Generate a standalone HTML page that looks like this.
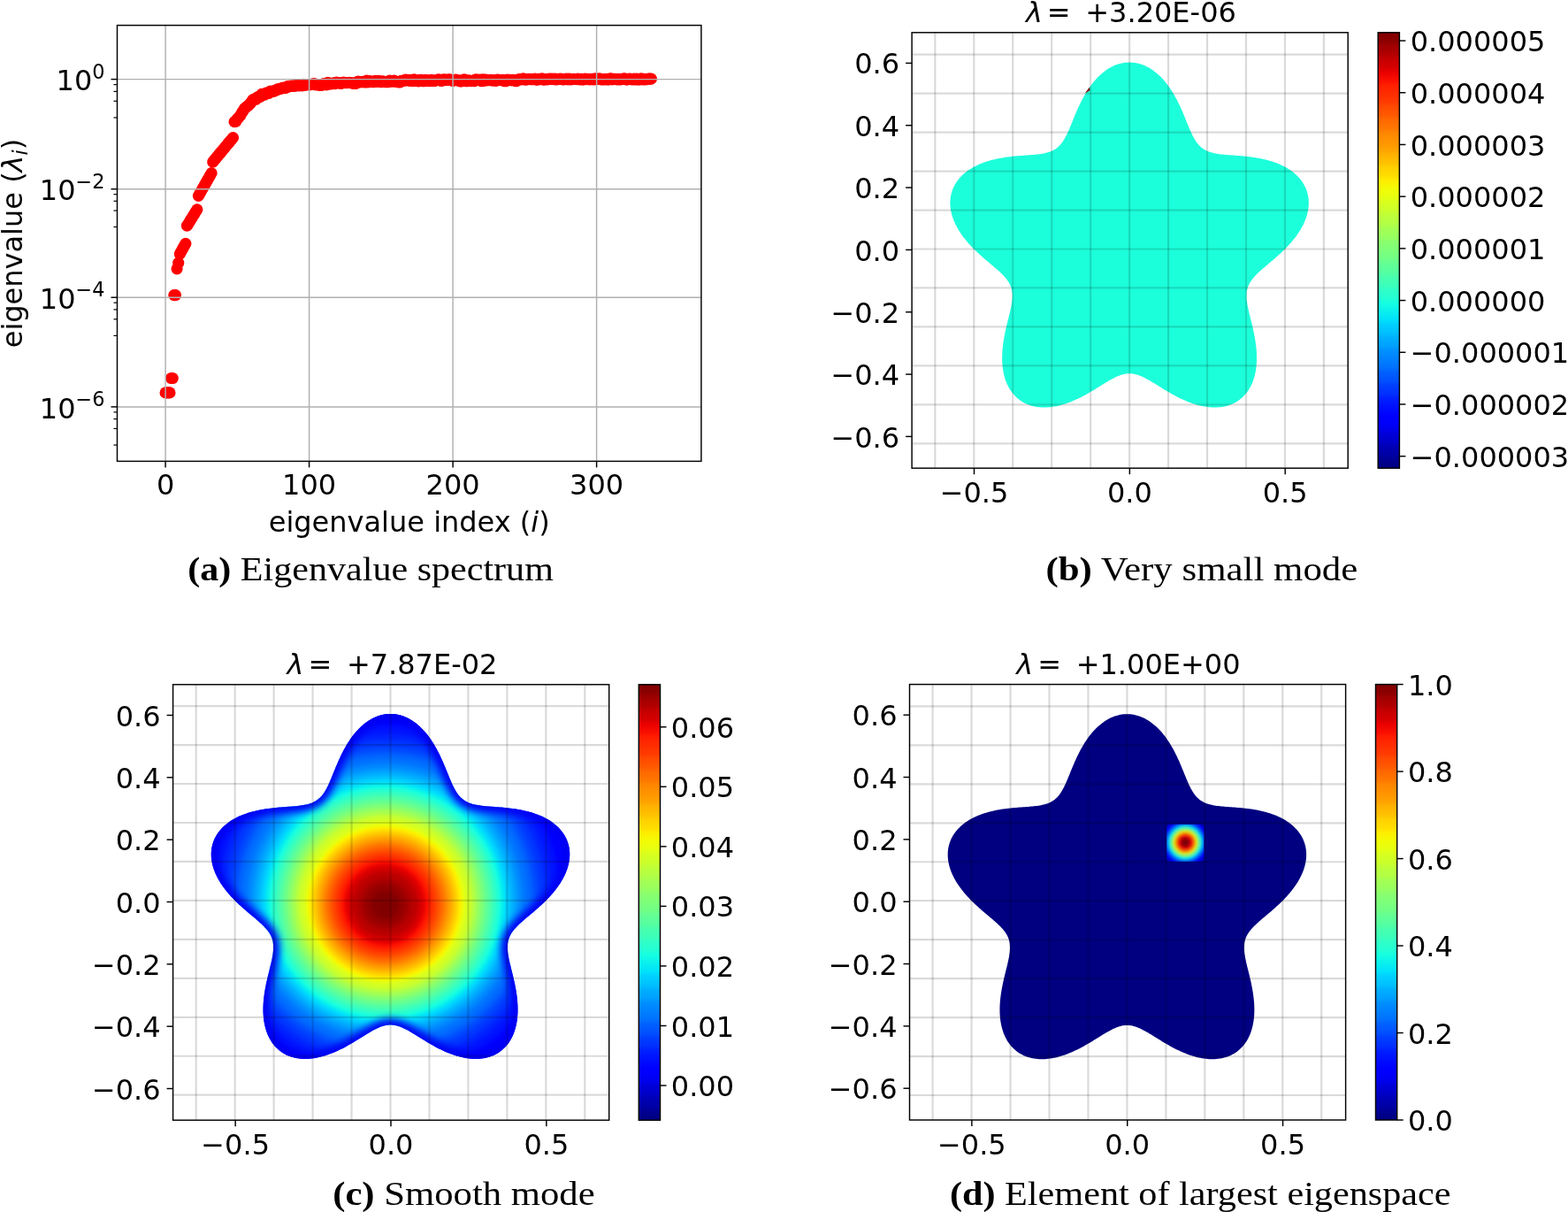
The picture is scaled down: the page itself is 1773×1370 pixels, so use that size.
<!DOCTYPE html><html><head><meta charset="utf-8"><title>Eigenmodes</title><style>html,body{margin:0;padding:0;background:#fff;width:1773px;height:1370px;overflow:hidden}svg{display:block}</style></head><body><svg width="1773" height="1370" viewBox="0 0 1773 1370" font-family='"DejaVu Sans", sans-serif' fill="#000"><defs><linearGradient id="cbb" x1="0" y1="0" x2="0" y2="1"><stop offset="0" stop-color="#800000"/><stop offset="0.02" stop-color="#8d0000"/><stop offset="0.03" stop-color="#9f0000"/><stop offset="0.05" stop-color="#b20000"/><stop offset="0.06" stop-color="#c40000"/><stop offset="0.08" stop-color="#d60000"/><stop offset="0.09" stop-color="#e80000"/><stop offset="0.11" stop-color="#fa0f00"/><stop offset="0.12" stop-color="#ff1e00"/><stop offset="0.14" stop-color="#ff2d00"/><stop offset="0.16" stop-color="#ff3b00"/><stop offset="0.17" stop-color="#ff4a00"/><stop offset="0.19" stop-color="#ff5900"/><stop offset="0.2" stop-color="#ff6800"/><stop offset="0.22" stop-color="#ff7700"/><stop offset="0.23" stop-color="#ff8600"/><stop offset="0.25" stop-color="#ff9400"/><stop offset="0.27" stop-color="#ffa300"/><stop offset="0.28" stop-color="#ffb200"/><stop offset="0.3" stop-color="#ffc100"/><stop offset="0.31" stop-color="#ffd000"/><stop offset="0.33" stop-color="#ffde00"/><stop offset="0.34" stop-color="#feed00"/><stop offset="0.36" stop-color="#f1fc06"/><stop offset="0.38" stop-color="#e4ff13"/><stop offset="0.39" stop-color="#d7ff1f"/><stop offset="0.41" stop-color="#caff2c"/><stop offset="0.42" stop-color="#beff39"/><stop offset="0.44" stop-color="#b1ff46"/><stop offset="0.45" stop-color="#a4ff53"/><stop offset="0.47" stop-color="#97ff60"/><stop offset="0.48" stop-color="#8aff6d"/><stop offset="0.5" stop-color="#7dff7a"/><stop offset="0.52" stop-color="#70ff87"/><stop offset="0.53" stop-color="#63ff94"/><stop offset="0.55" stop-color="#56ffa0"/><stop offset="0.56" stop-color="#49ffad"/><stop offset="0.58" stop-color="#3cffba"/><stop offset="0.59" stop-color="#30ffc7"/><stop offset="0.61" stop-color="#23ffd4"/><stop offset="0.62" stop-color="#16ffe1"/><stop offset="0.64" stop-color="#09f0ee"/><stop offset="0.66" stop-color="#00e0fb"/><stop offset="0.67" stop-color="#00d0ff"/><stop offset="0.69" stop-color="#00c0ff"/><stop offset="0.7" stop-color="#00b0ff"/><stop offset="0.72" stop-color="#00a0ff"/><stop offset="0.73" stop-color="#0090ff"/><stop offset="0.75" stop-color="#0080ff"/><stop offset="0.77" stop-color="#0070ff"/><stop offset="0.78" stop-color="#0060ff"/><stop offset="0.8" stop-color="#0050ff"/><stop offset="0.81" stop-color="#0040ff"/><stop offset="0.83" stop-color="#0030ff"/><stop offset="0.84" stop-color="#0020ff"/><stop offset="0.86" stop-color="#0010ff"/><stop offset="0.88" stop-color="#0000ff"/><stop offset="0.89" stop-color="#0000ff"/><stop offset="0.91" stop-color="#0000ed"/><stop offset="0.92" stop-color="#0000da"/><stop offset="0.94" stop-color="#0000c8"/><stop offset="0.95" stop-color="#0000b6"/><stop offset="0.97" stop-color="#0000a4"/><stop offset="0.98" stop-color="#000092"/><stop offset="1" stop-color="#000080"/></linearGradient><radialGradient id="rgc" gradientUnits="userSpaceOnUse" cx="435.5" cy="1016.9" fx="435.5" fy="1022.9" r="253.22"><stop offset="0" stop-color="#800000"/><stop offset="0.01" stop-color="#800000"/><stop offset="0.02" stop-color="#800000"/><stop offset="0.03" stop-color="#800000"/><stop offset="0.04" stop-color="#840000"/><stop offset="0.05" stop-color="#840000"/><stop offset="0.06" stop-color="#890000"/><stop offset="0.07" stop-color="#920000"/><stop offset="0.08" stop-color="#960000"/><stop offset="0.09" stop-color="#9b0000"/><stop offset="0.1" stop-color="#a40000"/><stop offset="0.11" stop-color="#ad0000"/><stop offset="0.12" stop-color="#b60000"/><stop offset="0.14" stop-color="#bf0000"/><stop offset="0.15" stop-color="#cd0000"/><stop offset="0.16" stop-color="#d60000"/><stop offset="0.17" stop-color="#e40000"/><stop offset="0.18" stop-color="#f10800"/><stop offset="0.19" stop-color="#ff1300"/><stop offset="0.2" stop-color="#ff2200"/><stop offset="0.21" stop-color="#ff2d00"/><stop offset="0.22" stop-color="#ff3b00"/><stop offset="0.23" stop-color="#ff4700"/><stop offset="0.24" stop-color="#ff5500"/><stop offset="0.25" stop-color="#ff6400"/><stop offset="0.26" stop-color="#ff7300"/><stop offset="0.27" stop-color="#ff8200"/><stop offset="0.28" stop-color="#ff9400"/><stop offset="0.29" stop-color="#ffa300"/><stop offset="0.3" stop-color="#ffb200"/><stop offset="0.31" stop-color="#ffc400"/><stop offset="0.32" stop-color="#ffd300"/><stop offset="0.33" stop-color="#ffe600"/><stop offset="0.34" stop-color="#f8f500"/><stop offset="0.35" stop-color="#e7ff0f"/><stop offset="0.36" stop-color="#dbff1c"/><stop offset="0.38" stop-color="#caff2c"/><stop offset="0.39" stop-color="#beff39"/><stop offset="0.4" stop-color="#adff49"/><stop offset="0.41" stop-color="#a0ff56"/><stop offset="0.42" stop-color="#90ff66"/><stop offset="0.43" stop-color="#83ff73"/><stop offset="0.44" stop-color="#73ff83"/><stop offset="0.45" stop-color="#66ff90"/><stop offset="0.46" stop-color="#5aff9d"/><stop offset="0.47" stop-color="#4dffaa"/><stop offset="0.48" stop-color="#40ffb7"/><stop offset="0.49" stop-color="#33ffc4"/><stop offset="0.5" stop-color="#26ffd1"/><stop offset="0.51" stop-color="#19ffde"/><stop offset="0.52" stop-color="#0cf4eb"/><stop offset="0.53" stop-color="#02e8f4"/><stop offset="0.54" stop-color="#00d8ff"/><stop offset="0.55" stop-color="#00ccff"/><stop offset="0.56" stop-color="#00bcff"/><stop offset="0.57" stop-color="#00b0ff"/><stop offset="0.58" stop-color="#00a4ff"/><stop offset="0.59" stop-color="#0098ff"/><stop offset="0.6" stop-color="#008cff"/><stop offset="0.61" stop-color="#0084ff"/><stop offset="0.62" stop-color="#0078ff"/><stop offset="0.64" stop-color="#006cff"/><stop offset="0.65" stop-color="#0064ff"/><stop offset="0.66" stop-color="#005cff"/><stop offset="0.67" stop-color="#0050ff"/><stop offset="0.68" stop-color="#0048ff"/><stop offset="0.69" stop-color="#0040ff"/><stop offset="0.7" stop-color="#0038ff"/><stop offset="0.71" stop-color="#0034ff"/><stop offset="0.72" stop-color="#002cff"/><stop offset="0.73" stop-color="#0024ff"/><stop offset="0.74" stop-color="#0020ff"/><stop offset="0.75" stop-color="#0018ff"/><stop offset="0.76" stop-color="#0014ff"/><stop offset="0.77" stop-color="#0010ff"/><stop offset="0.78" stop-color="#000cff"/><stop offset="0.79" stop-color="#0004ff"/><stop offset="0.8" stop-color="#0000ff"/><stop offset="0.81" stop-color="#0000ff"/><stop offset="0.82" stop-color="#0000ff"/><stop offset="0.83" stop-color="#0000ff"/><stop offset="0.84" stop-color="#0000ff"/><stop offset="0.85" stop-color="#0000ff"/><stop offset="0.86" stop-color="#0000fa"/><stop offset="0.88" stop-color="#0000fa"/><stop offset="0.89" stop-color="#0000f6"/><stop offset="0.9" stop-color="#0000f6"/><stop offset="0.91" stop-color="#0000f6"/><stop offset="0.92" stop-color="#0000f6"/><stop offset="0.93" stop-color="#0000f6"/><stop offset="0.94" stop-color="#0000f6"/><stop offset="0.95" stop-color="#0000f6"/><stop offset="0.96" stop-color="#0000f6"/><stop offset="0.97" stop-color="#0000f6"/><stop offset="0.98" stop-color="#0000f6"/><stop offset="0.99" stop-color="#0000f6"/><stop offset="1" stop-color="#0000f6"/></radialGradient><clipPath id="clipc"><path d="M617.35,1017.9 L618.88,1016.35 L620.39,1014.78 L621.88,1013.18 L623.35,1011.55 L624.79,1009.9 L626.2,1008.22 L627.58,1006.52 L628.92,1004.79 L630.23,1003.05 L631.49,1001.28 L632.71,999.49 L633.88,997.68 L634.99,995.85 L636.06,994.01 L637.07,992.15 L638.03,990.28 L638.92,988.4 L639.75,986.5 L640.51,984.6 L641.21,982.69 L641.84,980.77 L642.4,978.85 L642.89,976.93 L643.3,975.01 L643.64,973.09 L643.9,971.17 L644.09,969.26 L644.19,967.36 L644.22,965.47 L644.17,963.59 L644.04,961.73 L643.83,959.88 L643.54,958.05 L643.17,956.24 L642.72,954.46 L642.19,952.69 L641.58,950.95 L640.9,949.24 L640.13,947.56 L639.29,945.91 L638.38,944.29 L637.39,942.71 L636.32,941.16 L635.19,939.65 L633.98,938.17 L632.71,936.74 L631.37,935.34 L629.97,933.99 L628.51,932.68 L626.98,931.41 L625.4,930.18 L623.77,929 L622.08,927.87 L620.34,926.78 L618.56,925.73 L616.73,924.73 L614.86,923.78 L612.95,922.87 L611,922 L609.02,921.18 L607.01,920.41 L604.97,919.68 L602.91,918.99 L600.83,918.34 L598.73,917.73 L596.61,917.17 L594.49,916.64 L592.35,916.15 L590.21,915.7 L588.06,915.28 L585.91,914.89 L583.77,914.54 L581.63,914.21 L579.49,913.92 L577.37,913.64 L575.26,913.4 L573.16,913.17 L571.09,912.96 L569.03,912.77 L566.99,912.6 L564.98,912.44 L563,912.28 L561.04,912.14 L559.11,912 L557.22,911.86 L555.36,911.73 L553.53,911.59 L551.73,911.45 L549.98,911.3 L548.26,911.14 L546.58,910.97 L544.94,910.78 L543.34,910.58 L541.78,910.36 L540.26,910.12 L538.79,909.85 L537.35,909.56 L535.96,909.24 L534.6,908.89 L533.29,908.51 L532.02,908.09 L530.79,907.64 L529.59,907.15 L528.44,906.62 L527.32,906.05 L526.24,905.44 L525.2,904.79 L524.19,904.09 L523.21,903.34 L522.27,902.55 L521.35,901.71 L520.47,900.83 L519.61,899.89 L518.77,898.91 L517.96,897.88 L517.17,896.8 L516.4,895.67 L515.65,894.49 L514.92,893.26 L514.2,891.99 L513.49,890.66 L512.79,889.3 L512.09,887.88 L511.41,886.42 L510.73,884.92 L510.04,883.37 L509.36,881.79 L508.68,880.17 L507.99,878.5 L507.29,876.81 L506.59,875.08 L505.87,873.32 L505.14,871.53 L504.4,869.71 L503.64,867.87 L502.87,866.01 L502.07,864.13 L501.26,862.23 L500.42,860.32 L499.56,858.39 L498.67,856.46 L497.75,854.53 L496.81,852.59 L495.84,850.66 L494.84,848.73 L493.81,846.8 L492.75,844.89 L491.65,842.99 L490.53,841.11 L489.37,839.25 L488.18,837.41 L486.95,835.6 L485.69,833.82 L484.4,832.07 L483.08,830.36 L481.72,828.69 L480.33,827.06 L478.9,825.48 L477.45,823.94 L475.96,822.46 L474.45,821.03 L472.9,819.65 L471.32,818.34 L469.72,817.08 L468.1,815.89 L466.44,814.77 L464.76,813.71 L463.07,812.72 L461.34,811.81 L459.6,810.97 L457.85,810.2 L456.07,809.51 L454.28,808.9 L452.48,808.37 L450.67,807.91 L448.85,807.54 L447.02,807.25 L445.18,807.05 L443.34,806.92 L441.5,806.88 L439.66,806.92 L437.82,807.05 L435.98,807.25 L434.15,807.54 L432.33,807.91 L430.52,808.37 L428.72,808.9 L426.93,809.51 L425.15,810.2 L423.4,810.97 L421.66,811.81 L419.93,812.72 L418.24,813.71 L416.56,814.77 L414.9,815.89 L413.28,817.08 L411.68,818.34 L410.1,819.65 L408.55,821.03 L407.04,822.46 L405.55,823.94 L404.1,825.48 L402.67,827.06 L401.28,828.69 L399.92,830.36 L398.6,832.07 L397.31,833.82 L396.05,835.6 L394.82,837.41 L393.63,839.25 L392.47,841.11 L391.35,842.99 L390.25,844.89 L389.19,846.8 L388.16,848.73 L387.16,850.66 L386.19,852.59 L385.25,854.53 L384.33,856.46 L383.44,858.39 L382.58,860.32 L381.74,862.23 L380.93,864.13 L380.13,866.01 L379.36,867.87 L378.6,869.71 L377.86,871.53 L377.13,873.32 L376.41,875.08 L375.71,876.81 L375.01,878.5 L374.32,880.17 L373.64,881.79 L372.96,883.37 L372.27,884.92 L371.59,886.42 L370.91,887.88 L370.21,889.3 L369.51,890.66 L368.8,891.99 L368.08,893.26 L367.35,894.49 L366.6,895.67 L365.83,896.8 L365.04,897.88 L364.23,898.91 L363.39,899.89 L362.53,900.83 L361.65,901.71 L360.73,902.55 L359.79,903.34 L358.81,904.09 L357.8,904.79 L356.76,905.44 L355.68,906.05 L354.56,906.62 L353.41,907.15 L352.21,907.64 L350.98,908.09 L349.71,908.51 L348.4,908.89 L347.04,909.24 L345.65,909.56 L344.21,909.85 L342.74,910.12 L341.22,910.36 L339.66,910.58 L338.06,910.78 L336.42,910.97 L334.74,911.14 L333.02,911.3 L331.27,911.45 L329.47,911.59 L327.64,911.73 L325.78,911.86 L323.89,912 L321.96,912.14 L320,912.28 L318.02,912.44 L316.01,912.6 L313.97,912.77 L311.91,912.96 L309.84,913.17 L307.74,913.4 L305.63,913.64 L303.51,913.92 L301.37,914.21 L299.23,914.54 L297.09,914.89 L294.94,915.28 L292.79,915.7 L290.65,916.15 L288.51,916.64 L286.39,917.17 L284.27,917.73 L282.17,918.34 L280.09,918.99 L278.03,919.68 L275.99,920.41 L273.98,921.18 L272,922 L270.05,922.87 L268.14,923.78 L266.27,924.73 L264.44,925.73 L262.66,926.78 L260.92,927.87 L259.23,929 L257.6,930.18 L256.02,931.41 L254.49,932.68 L253.03,933.99 L251.63,935.34 L250.29,936.74 L249.02,938.17 L247.81,939.65 L246.68,941.16 L245.61,942.71 L244.62,944.29 L243.71,945.91 L242.87,947.56 L242.1,949.24 L241.42,950.95 L240.81,952.69 L240.28,954.46 L239.83,956.24 L239.46,958.05 L239.17,959.88 L238.96,961.73 L238.83,963.59 L238.78,965.47 L238.81,967.36 L238.91,969.26 L239.1,971.17 L239.36,973.09 L239.7,975.01 L240.11,976.93 L240.6,978.85 L241.16,980.77 L241.79,982.69 L242.49,984.6 L243.25,986.5 L244.08,988.4 L244.97,990.28 L245.93,992.15 L246.94,994.01 L248.01,995.85 L249.12,997.68 L250.29,999.49 L251.51,1001.28 L252.77,1003.05 L254.08,1004.79 L255.42,1006.52 L256.8,1008.22 L258.21,1009.9 L259.65,1011.55 L261.12,1013.18 L262.61,1014.78 L264.12,1016.35 L265.65,1017.9 L267.19,1019.42 L268.74,1020.92 L270.3,1022.38 L271.86,1023.82 L273.42,1025.24 L274.98,1026.63 L276.53,1027.99 L278.08,1029.33 L279.61,1030.64 L281.13,1031.93 L282.62,1033.2 L284.1,1034.44 L285.56,1035.67 L286.98,1036.87 L288.38,1038.06 L289.75,1039.23 L291.08,1040.38 L292.38,1041.52 L293.64,1042.64 L294.85,1043.76 L296.03,1044.86 L297.16,1045.96 L298.25,1047.05 L299.29,1048.13 L300.28,1049.21 L301.21,1050.29 L302.1,1051.37 L302.94,1052.45 L303.73,1053.53 L304.46,1054.62 L305.13,1055.72 L305.76,1056.82 L306.32,1057.94 L306.84,1059.07 L307.3,1060.21 L307.71,1061.37 L308.06,1062.55 L308.36,1063.74 L308.61,1064.96 L308.8,1066.2 L308.95,1067.46 L309.05,1068.74 L309.09,1070.06 L309.1,1071.39 L309.06,1072.76 L308.97,1074.16 L308.84,1075.58 L308.68,1077.04 L308.47,1078.52 L308.24,1080.04 L307.96,1081.59 L307.66,1083.18 L307.33,1084.79 L306.97,1086.44 L306.59,1088.13 L306.19,1089.84 L305.78,1091.59 L305.34,1093.37 L304.89,1095.19 L304.44,1097.03 L303.98,1098.91 L303.51,1100.81 L303.04,1102.75 L302.57,1104.71 L302.11,1106.7 L301.65,1108.72 L301.21,1110.76 L300.78,1112.82 L300.36,1114.9 L299.96,1117.01 L299.59,1119.13 L299.23,1121.26 L298.91,1123.41 L298.61,1125.57 L298.35,1127.75 L298.12,1129.92 L297.92,1132.11 L297.76,1134.29 L297.65,1136.48 L297.58,1138.67 L297.55,1140.85 L297.57,1143.02 L297.63,1145.18 L297.75,1147.33 L297.92,1149.47 L298.14,1151.59 L298.41,1153.68 L298.74,1155.76 L299.13,1157.81 L299.57,1159.83 L300.07,1161.82 L300.63,1163.78 L301.25,1165.7 L301.92,1167.58 L302.66,1169.42 L303.45,1171.22 L304.31,1172.97 L305.22,1174.67 L306.19,1176.33 L307.22,1177.93 L308.31,1179.47 L309.45,1180.96 L310.66,1182.39 L311.91,1183.76 L313.22,1185.07 L314.59,1186.32 L316,1187.5 L317.47,1188.62 L318.98,1189.67 L320.54,1190.65 L322.15,1191.56 L323.8,1192.4 L325.49,1193.17 L327.22,1193.87 L328.99,1194.5 L330.8,1195.06 L332.64,1195.54 L334.51,1195.95 L336.42,1196.3 L338.35,1196.57 L340.3,1196.77 L342.28,1196.9 L344.28,1196.96 L346.3,1196.95 L348.33,1196.88 L350.38,1196.74 L352.43,1196.54 L354.5,1196.27 L356.58,1195.94 L358.66,1195.56 L360.74,1195.11 L362.82,1194.61 L364.9,1194.06 L366.98,1193.45 L369.05,1192.8 L371.12,1192.1 L373.17,1191.35 L375.22,1190.57 L377.25,1189.74 L379.27,1188.88 L381.27,1187.99 L383.25,1187.07 L385.22,1186.12 L387.16,1185.14 L389.08,1184.15 L390.98,1183.13 L392.86,1182.11 L394.71,1181.07 L396.54,1180.02 L398.34,1178.97 L400.12,1177.91 L401.87,1176.85 L403.59,1175.8 L405.29,1174.76 L406.95,1173.73 L408.59,1172.71 L410.21,1171.7 L411.8,1170.72 L413.36,1169.75 L414.89,1168.82 L416.4,1167.9 L417.88,1167.02 L419.34,1166.17 L420.78,1165.36 L422.19,1164.58 L423.58,1163.84 L424.95,1163.15 L426.3,1162.5 L427.64,1161.89 L428.95,1161.33 L430.25,1160.82 L431.54,1160.35 L432.81,1159.94 L434.07,1159.58 L435.33,1159.28 L436.57,1159.03 L437.81,1158.83 L439.04,1158.69 L440.27,1158.61 L441.5,1158.58 L442.73,1158.61 L443.96,1158.69 L445.19,1158.83 L446.43,1159.03 L447.67,1159.28 L448.93,1159.58 L450.19,1159.94 L451.46,1160.35 L452.75,1160.82 L454.05,1161.33 L455.36,1161.89 L456.7,1162.5 L458.05,1163.15 L459.42,1163.84 L460.81,1164.58 L462.22,1165.36 L463.66,1166.17 L465.12,1167.02 L466.6,1167.9 L468.11,1168.82 L469.64,1169.75 L471.2,1170.72 L472.79,1171.7 L474.41,1172.71 L476.05,1173.73 L477.71,1174.76 L479.41,1175.8 L481.13,1176.85 L482.88,1177.91 L484.66,1178.97 L486.46,1180.02 L488.29,1181.07 L490.14,1182.11 L492.02,1183.13 L493.92,1184.15 L495.84,1185.14 L497.78,1186.12 L499.75,1187.07 L501.73,1187.99 L503.73,1188.88 L505.75,1189.74 L507.78,1190.57 L509.83,1191.35 L511.88,1192.1 L513.95,1192.8 L516.02,1193.45 L518.1,1194.06 L520.18,1194.61 L522.26,1195.11 L524.34,1195.56 L526.42,1195.94 L528.5,1196.27 L530.57,1196.54 L532.62,1196.74 L534.67,1196.88 L536.7,1196.95 L538.72,1196.96 L540.72,1196.9 L542.7,1196.77 L544.65,1196.57 L546.58,1196.3 L548.49,1195.95 L550.36,1195.54 L552.2,1195.06 L554.01,1194.5 L555.78,1193.87 L557.51,1193.17 L559.2,1192.4 L560.85,1191.56 L562.46,1190.65 L564.02,1189.67 L565.53,1188.62 L567,1187.5 L568.41,1186.32 L569.78,1185.07 L571.09,1183.76 L572.34,1182.39 L573.55,1180.96 L574.69,1179.47 L575.78,1177.93 L576.81,1176.33 L577.78,1174.67 L578.69,1172.97 L579.55,1171.22 L580.34,1169.42 L581.08,1167.58 L581.75,1165.7 L582.37,1163.78 L582.93,1161.82 L583.43,1159.83 L583.87,1157.81 L584.26,1155.76 L584.59,1153.68 L584.86,1151.59 L585.08,1149.47 L585.25,1147.33 L585.37,1145.18 L585.43,1143.02 L585.45,1140.85 L585.42,1138.67 L585.35,1136.48 L585.24,1134.29 L585.08,1132.11 L584.88,1129.92 L584.65,1127.75 L584.39,1125.57 L584.09,1123.41 L583.77,1121.26 L583.41,1119.13 L583.04,1117.01 L582.64,1114.9 L582.22,1112.82 L581.79,1110.76 L581.35,1108.72 L580.89,1106.7 L580.43,1104.71 L579.96,1102.75 L579.49,1100.81 L579.02,1098.91 L578.56,1097.03 L578.11,1095.19 L577.66,1093.37 L577.22,1091.59 L576.81,1089.84 L576.41,1088.13 L576.03,1086.44 L575.67,1084.79 L575.34,1083.18 L575.04,1081.59 L574.76,1080.04 L574.53,1078.52 L574.32,1077.04 L574.16,1075.58 L574.03,1074.16 L573.94,1072.76 L573.9,1071.39 L573.91,1070.06 L573.95,1068.74 L574.05,1067.46 L574.2,1066.2 L574.39,1064.96 L574.64,1063.74 L574.94,1062.55 L575.29,1061.37 L575.7,1060.21 L576.16,1059.07 L576.68,1057.94 L577.24,1056.82 L577.87,1055.72 L578.54,1054.62 L579.27,1053.53 L580.06,1052.45 L580.9,1051.37 L581.79,1050.29 L582.72,1049.21 L583.71,1048.13 L584.75,1047.05 L585.84,1045.96 L586.97,1044.86 L588.15,1043.76 L589.36,1042.64 L590.62,1041.52 L591.92,1040.38 L593.25,1039.23 L594.62,1038.06 L596.02,1036.87 L597.44,1035.67 L598.9,1034.44 L600.38,1033.2 L601.87,1031.93 L603.39,1030.64 L604.92,1029.33 L606.47,1027.99 L608.02,1026.63 L609.58,1025.24 L611.14,1023.82 L612.7,1022.38 L614.26,1020.92 L615.81,1019.42 Z"/></clipPath><filter id="blc" x="-0.1" y="-0.1" width="1.2" height="1.2"><feGaussianBlur stdDeviation="4"/></filter><linearGradient id="cbc" x1="0" y1="0" x2="0" y2="1"><stop offset="0" stop-color="#800000"/><stop offset="0.02" stop-color="#8d0000"/><stop offset="0.03" stop-color="#9f0000"/><stop offset="0.05" stop-color="#b20000"/><stop offset="0.06" stop-color="#c40000"/><stop offset="0.08" stop-color="#d60000"/><stop offset="0.09" stop-color="#e80000"/><stop offset="0.11" stop-color="#fa0f00"/><stop offset="0.12" stop-color="#ff1e00"/><stop offset="0.14" stop-color="#ff2d00"/><stop offset="0.16" stop-color="#ff3b00"/><stop offset="0.17" stop-color="#ff4a00"/><stop offset="0.19" stop-color="#ff5900"/><stop offset="0.2" stop-color="#ff6800"/><stop offset="0.22" stop-color="#ff7700"/><stop offset="0.23" stop-color="#ff8600"/><stop offset="0.25" stop-color="#ff9400"/><stop offset="0.27" stop-color="#ffa300"/><stop offset="0.28" stop-color="#ffb200"/><stop offset="0.3" stop-color="#ffc100"/><stop offset="0.31" stop-color="#ffd000"/><stop offset="0.33" stop-color="#ffde00"/><stop offset="0.34" stop-color="#feed00"/><stop offset="0.36" stop-color="#f1fc06"/><stop offset="0.38" stop-color="#e4ff13"/><stop offset="0.39" stop-color="#d7ff1f"/><stop offset="0.41" stop-color="#caff2c"/><stop offset="0.42" stop-color="#beff39"/><stop offset="0.44" stop-color="#b1ff46"/><stop offset="0.45" stop-color="#a4ff53"/><stop offset="0.47" stop-color="#97ff60"/><stop offset="0.48" stop-color="#8aff6d"/><stop offset="0.5" stop-color="#7dff7a"/><stop offset="0.52" stop-color="#70ff87"/><stop offset="0.53" stop-color="#63ff94"/><stop offset="0.55" stop-color="#56ffa0"/><stop offset="0.56" stop-color="#49ffad"/><stop offset="0.58" stop-color="#3cffba"/><stop offset="0.59" stop-color="#30ffc7"/><stop offset="0.61" stop-color="#23ffd4"/><stop offset="0.62" stop-color="#16ffe1"/><stop offset="0.64" stop-color="#09f0ee"/><stop offset="0.66" stop-color="#00e0fb"/><stop offset="0.67" stop-color="#00d0ff"/><stop offset="0.69" stop-color="#00c0ff"/><stop offset="0.7" stop-color="#00b0ff"/><stop offset="0.72" stop-color="#00a0ff"/><stop offset="0.73" stop-color="#0090ff"/><stop offset="0.75" stop-color="#0080ff"/><stop offset="0.77" stop-color="#0070ff"/><stop offset="0.78" stop-color="#0060ff"/><stop offset="0.8" stop-color="#0050ff"/><stop offset="0.81" stop-color="#0040ff"/><stop offset="0.83" stop-color="#0030ff"/><stop offset="0.84" stop-color="#0020ff"/><stop offset="0.86" stop-color="#0010ff"/><stop offset="0.88" stop-color="#0000ff"/><stop offset="0.89" stop-color="#0000ff"/><stop offset="0.91" stop-color="#0000ed"/><stop offset="0.92" stop-color="#0000da"/><stop offset="0.94" stop-color="#0000c8"/><stop offset="0.95" stop-color="#0000b6"/><stop offset="0.97" stop-color="#0000a4"/><stop offset="0.98" stop-color="#000092"/><stop offset="1" stop-color="#000080"/></linearGradient><clipPath id="celld"><rect x="1318.96" y="931.68" width="42.56" height="42.56" rx="3.5"/></clipPath><filter id="bbd" x="-0.1" y="-0.1" width="1.2" height="1.2"><feGaussianBlur stdDeviation="1.1"/></filter><linearGradient id="cbd" x1="0" y1="0" x2="0" y2="1"><stop offset="0" stop-color="#800000"/><stop offset="0.02" stop-color="#8d0000"/><stop offset="0.03" stop-color="#9f0000"/><stop offset="0.05" stop-color="#b20000"/><stop offset="0.06" stop-color="#c40000"/><stop offset="0.08" stop-color="#d60000"/><stop offset="0.09" stop-color="#e80000"/><stop offset="0.11" stop-color="#fa0f00"/><stop offset="0.12" stop-color="#ff1e00"/><stop offset="0.14" stop-color="#ff2d00"/><stop offset="0.16" stop-color="#ff3b00"/><stop offset="0.17" stop-color="#ff4a00"/><stop offset="0.19" stop-color="#ff5900"/><stop offset="0.2" stop-color="#ff6800"/><stop offset="0.22" stop-color="#ff7700"/><stop offset="0.23" stop-color="#ff8600"/><stop offset="0.25" stop-color="#ff9400"/><stop offset="0.27" stop-color="#ffa300"/><stop offset="0.28" stop-color="#ffb200"/><stop offset="0.3" stop-color="#ffc100"/><stop offset="0.31" stop-color="#ffd000"/><stop offset="0.33" stop-color="#ffde00"/><stop offset="0.34" stop-color="#feed00"/><stop offset="0.36" stop-color="#f1fc06"/><stop offset="0.38" stop-color="#e4ff13"/><stop offset="0.39" stop-color="#d7ff1f"/><stop offset="0.41" stop-color="#caff2c"/><stop offset="0.42" stop-color="#beff39"/><stop offset="0.44" stop-color="#b1ff46"/><stop offset="0.45" stop-color="#a4ff53"/><stop offset="0.47" stop-color="#97ff60"/><stop offset="0.48" stop-color="#8aff6d"/><stop offset="0.5" stop-color="#7dff7a"/><stop offset="0.52" stop-color="#70ff87"/><stop offset="0.53" stop-color="#63ff94"/><stop offset="0.55" stop-color="#56ffa0"/><stop offset="0.56" stop-color="#49ffad"/><stop offset="0.58" stop-color="#3cffba"/><stop offset="0.59" stop-color="#30ffc7"/><stop offset="0.61" stop-color="#23ffd4"/><stop offset="0.62" stop-color="#16ffe1"/><stop offset="0.64" stop-color="#09f0ee"/><stop offset="0.66" stop-color="#00e0fb"/><stop offset="0.67" stop-color="#00d0ff"/><stop offset="0.69" stop-color="#00c0ff"/><stop offset="0.7" stop-color="#00b0ff"/><stop offset="0.72" stop-color="#00a0ff"/><stop offset="0.73" stop-color="#0090ff"/><stop offset="0.75" stop-color="#0080ff"/><stop offset="0.77" stop-color="#0070ff"/><stop offset="0.78" stop-color="#0060ff"/><stop offset="0.8" stop-color="#0050ff"/><stop offset="0.81" stop-color="#0040ff"/><stop offset="0.83" stop-color="#0030ff"/><stop offset="0.84" stop-color="#0020ff"/><stop offset="0.86" stop-color="#0010ff"/><stop offset="0.88" stop-color="#0000ff"/><stop offset="0.89" stop-color="#0000ff"/><stop offset="0.91" stop-color="#0000ed"/><stop offset="0.92" stop-color="#0000da"/><stop offset="0.94" stop-color="#0000c8"/><stop offset="0.95" stop-color="#0000b6"/><stop offset="0.97" stop-color="#0000a4"/><stop offset="0.98" stop-color="#000092"/><stop offset="1" stop-color="#000080"/></linearGradient></defs><rect width="1773" height="1370" fill="#fff"/>
<g fill="#ff0000">
<circle cx="187.1" cy="443.9" r="6.6"/>
<circle cx="188.72" cy="443.9" r="6.6"/>
<circle cx="190.35" cy="443.9" r="6.6"/>
<circle cx="191.97" cy="443.9" r="6.6"/>
<circle cx="193.6" cy="427.5" r="6.6"/>
<circle cx="195.22" cy="427.5" r="6.6"/>
<circle cx="196.85" cy="333.6" r="6.6"/>
<circle cx="198.47" cy="333.6" r="6.6"/>
<circle cx="200.1" cy="303.8" r="6.6"/>
<circle cx="201.72" cy="297.1" r="6.6"/>
<circle cx="203.35" cy="287" r="6.6"/>
<circle cx="204.97" cy="284.07" r="6.6"/>
<circle cx="206.6" cy="281.15" r="6.6"/>
<circle cx="208.22" cy="278.23" r="6.6"/>
<circle cx="209.85" cy="275.3" r="6.6"/>
<circle cx="211.47" cy="255.2" r="6.6"/>
<circle cx="213.1" cy="252.57" r="6.6"/>
<circle cx="214.72" cy="249.94" r="6.6"/>
<circle cx="216.35" cy="247.31" r="6.6"/>
<circle cx="217.97" cy="244.69" r="6.6"/>
<circle cx="219.6" cy="242.06" r="6.6"/>
<circle cx="221.22" cy="239.43" r="6.6"/>
<circle cx="222.85" cy="236.8" r="6.6"/>
<circle cx="224.47" cy="221.3" r="6.6"/>
<circle cx="226.1" cy="218.46" r="6.6"/>
<circle cx="227.72" cy="215.61" r="6.6"/>
<circle cx="229.35" cy="212.77" r="6.6"/>
<circle cx="230.97" cy="209.92" r="6.6"/>
<circle cx="232.6" cy="207.08" r="6.6"/>
<circle cx="234.22" cy="204.23" r="6.6"/>
<circle cx="235.85" cy="201.39" r="6.6"/>
<circle cx="237.47" cy="198.54" r="6.6"/>
<circle cx="239.1" cy="195.7" r="6.6"/>
<circle cx="240.72" cy="183" r="6.6"/>
<circle cx="242.35" cy="181.04" r="6.6"/>
<circle cx="243.97" cy="179.09" r="6.6"/>
<circle cx="245.6" cy="177.13" r="6.6"/>
<circle cx="247.22" cy="175.17" r="6.6"/>
<circle cx="248.85" cy="173.21" r="6.6"/>
<circle cx="250.47" cy="171.26" r="6.6"/>
<circle cx="252.1" cy="169.3" r="6.6"/>
<circle cx="253.72" cy="167.34" r="6.6"/>
<circle cx="255.35" cy="165.39" r="6.6"/>
<circle cx="256.98" cy="163.43" r="6.6"/>
<circle cx="258.6" cy="161.47" r="6.6"/>
<circle cx="260.23" cy="159.51" r="6.6"/>
<circle cx="261.85" cy="157.56" r="6.6"/>
<circle cx="263.48" cy="155.6" r="6.6"/>
<circle cx="265.1" cy="137.65" r="6.6"/>
<circle cx="266.73" cy="137.26" r="6.6"/>
<circle cx="268.35" cy="134.33" r="6.6"/>
<circle cx="269.98" cy="132.66" r="6.6"/>
<circle cx="271.6" cy="130.92" r="6.6"/>
<circle cx="273.23" cy="127.8" r="6.6"/>
<circle cx="274.85" cy="125.48" r="6.6"/>
<circle cx="276.48" cy="122.72" r="6.6"/>
<circle cx="278.1" cy="121.37" r="6.6"/>
<circle cx="279.73" cy="120.09" r="6.6"/>
<circle cx="281.35" cy="118.7" r="6.6"/>
<circle cx="282.98" cy="117.2" r="6.6"/>
<circle cx="284.6" cy="114.61" r="6.6"/>
<circle cx="286.23" cy="112.53" r="6.6"/>
<circle cx="287.85" cy="111.98" r="6.6"/>
<circle cx="289.48" cy="112.22" r="6.6"/>
<circle cx="291.1" cy="109.83" r="6.6"/>
<circle cx="292.73" cy="109.3" r="6.6"/>
<circle cx="294.35" cy="109.26" r="6.6"/>
<circle cx="295.98" cy="106.45" r="6.6"/>
<circle cx="297.6" cy="106.92" r="6.6"/>
<circle cx="299.23" cy="107.06" r="6.6"/>
<circle cx="300.85" cy="105.07" r="6.6"/>
<circle cx="302.48" cy="105.16" r="6.6"/>
<circle cx="304.1" cy="105.33" r="6.6"/>
<circle cx="305.73" cy="103.22" r="6.6"/>
<circle cx="307.35" cy="103.45" r="6.6"/>
<circle cx="308.98" cy="103.36" r="6.6"/>
<circle cx="310.6" cy="102.71" r="6.6"/>
<circle cx="312.23" cy="101.82" r="6.6"/>
<circle cx="313.85" cy="100.82" r="6.6"/>
<circle cx="315.48" cy="100.91" r="6.6"/>
<circle cx="317.1" cy="100.19" r="6.6"/>
<circle cx="318.73" cy="99.92" r="6.6"/>
<circle cx="320.35" cy="99.21" r="6.6"/>
<circle cx="321.98" cy="99.68" r="6.6"/>
<circle cx="323.6" cy="99.06" r="6.6"/>
<circle cx="325.23" cy="97.67" r="6.6"/>
<circle cx="326.85" cy="97.85" r="6.6"/>
<circle cx="328.48" cy="97.08" r="6.6"/>
<circle cx="330.1" cy="97.25" r="6.6"/>
<circle cx="331.73" cy="96.87" r="6.6"/>
<circle cx="333.35" cy="97.29" r="6.6"/>
<circle cx="334.98" cy="96.54" r="6.6"/>
<circle cx="336.6" cy="96.53" r="6.6"/>
<circle cx="338.23" cy="96.87" r="6.6"/>
<circle cx="339.85" cy="96.07" r="6.6"/>
<circle cx="341.48" cy="96.88" r="6.6"/>
<circle cx="343.1" cy="95.25" r="6.6"/>
<circle cx="344.73" cy="96.3" r="6.6"/>
<circle cx="346.35" cy="95.59" r="6.6"/>
<circle cx="347.98" cy="95.53" r="6.6"/>
<circle cx="349.6" cy="95.87" r="6.6"/>
<circle cx="351.23" cy="95.65" r="6.6"/>
<circle cx="352.85" cy="95.43" r="6.6"/>
<circle cx="354.48" cy="94.6" r="6.6"/>
<circle cx="356.1" cy="94.78" r="6.6"/>
<circle cx="357.73" cy="96.02" r="6.6"/>
<circle cx="359.35" cy="95.65" r="6.6"/>
<circle cx="360.98" cy="95.99" r="6.6"/>
<circle cx="362.6" cy="96.51" r="6.6"/>
<circle cx="364.23" cy="95.97" r="6.6"/>
<circle cx="365.85" cy="94.71" r="6.6"/>
<circle cx="367.48" cy="95.22" r="6.6"/>
<circle cx="369.1" cy="95.79" r="6.6"/>
<circle cx="370.73" cy="93.37" r="6.6"/>
<circle cx="372.35" cy="94.83" r="6.6"/>
<circle cx="373.98" cy="94.79" r="6.6"/>
<circle cx="375.6" cy="94.6" r="6.6"/>
<circle cx="377.23" cy="93.84" r="6.6"/>
<circle cx="378.85" cy="94.58" r="6.6"/>
<circle cx="380.48" cy="93.16" r="6.6"/>
<circle cx="382.1" cy="93.52" r="6.6"/>
<circle cx="383.73" cy="93.83" r="6.6"/>
<circle cx="385.35" cy="94.38" r="6.6"/>
<circle cx="386.98" cy="93.87" r="6.6"/>
<circle cx="388.6" cy="93.17" r="6.6"/>
<circle cx="390.23" cy="93.59" r="6.6"/>
<circle cx="391.85" cy="93.55" r="6.6"/>
<circle cx="393.48" cy="93.5" r="6.6"/>
<circle cx="395.1" cy="93.23" r="6.6"/>
<circle cx="396.73" cy="93.73" r="6.6"/>
<circle cx="398.35" cy="93.8" r="6.6"/>
<circle cx="399.98" cy="94.45" r="6.6"/>
<circle cx="401.6" cy="94.49" r="6.6"/>
<circle cx="403.23" cy="93.94" r="6.6"/>
<circle cx="404.85" cy="92.02" r="6.6"/>
<circle cx="406.48" cy="92.66" r="6.6"/>
<circle cx="408.1" cy="92.87" r="6.6"/>
<circle cx="409.73" cy="92.45" r="6.6"/>
<circle cx="411.35" cy="92.7" r="6.6"/>
<circle cx="412.98" cy="92.98" r="6.6"/>
<circle cx="414.6" cy="91.18" r="6.6"/>
<circle cx="416.23" cy="92.85" r="6.6"/>
<circle cx="417.85" cy="91.65" r="6.6"/>
<circle cx="419.48" cy="92.05" r="6.6"/>
<circle cx="421.1" cy="92.69" r="6.6"/>
<circle cx="422.73" cy="92.53" r="6.6"/>
<circle cx="424.35" cy="91.39" r="6.6"/>
<circle cx="425.98" cy="92.42" r="6.6"/>
<circle cx="427.6" cy="91.24" r="6.6"/>
<circle cx="429.23" cy="91.81" r="6.6"/>
<circle cx="430.85" cy="92.73" r="6.6"/>
<circle cx="432.48" cy="91.96" r="6.6"/>
<circle cx="434.1" cy="92.3" r="6.6"/>
<circle cx="435.73" cy="92.56" r="6.6"/>
<circle cx="437.35" cy="92.74" r="6.6"/>
<circle cx="438.98" cy="92.62" r="6.6"/>
<circle cx="440.6" cy="91.11" r="6.6"/>
<circle cx="442.23" cy="91.94" r="6.6"/>
<circle cx="443.85" cy="92.03" r="6.6"/>
<circle cx="445.48" cy="91.21" r="6.6"/>
<circle cx="447.1" cy="92.18" r="6.6"/>
<circle cx="448.73" cy="92.32" r="6.6"/>
<circle cx="450.35" cy="92.76" r="6.6"/>
<circle cx="451.98" cy="92.98" r="6.6"/>
<circle cx="453.6" cy="91.36" r="6.6"/>
<circle cx="455.23" cy="91.56" r="6.6"/>
<circle cx="456.85" cy="91.22" r="6.6"/>
<circle cx="458.48" cy="90.16" r="6.6"/>
<circle cx="460.1" cy="90.35" r="6.6"/>
<circle cx="461.73" cy="91.05" r="6.6"/>
<circle cx="463.35" cy="90.24" r="6.6"/>
<circle cx="464.98" cy="91.46" r="6.6"/>
<circle cx="466.6" cy="91.61" r="6.6"/>
<circle cx="468.23" cy="89.97" r="6.6"/>
<circle cx="469.85" cy="90.97" r="6.6"/>
<circle cx="471.48" cy="91.49" r="6.6"/>
<circle cx="473.1" cy="91.85" r="6.6"/>
<circle cx="474.73" cy="90.45" r="6.6"/>
<circle cx="476.35" cy="90.24" r="6.6"/>
<circle cx="477.98" cy="91.65" r="6.6"/>
<circle cx="479.6" cy="91.72" r="6.6"/>
<circle cx="481.23" cy="90.3" r="6.6"/>
<circle cx="482.85" cy="90.78" r="6.6"/>
<circle cx="484.48" cy="91.34" r="6.6"/>
<circle cx="486.1" cy="91.59" r="6.6"/>
<circle cx="487.73" cy="90.24" r="6.6"/>
<circle cx="489.35" cy="91.23" r="6.6"/>
<circle cx="490.98" cy="91.52" r="6.6"/>
<circle cx="492.6" cy="91" r="6.6"/>
<circle cx="494.23" cy="90.23" r="6.6"/>
<circle cx="495.85" cy="89.97" r="6.6"/>
<circle cx="497.48" cy="90.46" r="6.6"/>
<circle cx="499.1" cy="91.52" r="6.6"/>
<circle cx="500.73" cy="89.99" r="6.6"/>
<circle cx="502.35" cy="89.92" r="6.6"/>
<circle cx="503.98" cy="90.62" r="6.6"/>
<circle cx="505.6" cy="90.03" r="6.6"/>
<circle cx="507.23" cy="90.2" r="6.6"/>
<circle cx="508.85" cy="89.95" r="6.6"/>
<circle cx="510.48" cy="90.95" r="6.6"/>
<circle cx="512.1" cy="91.29" r="6.6"/>
<circle cx="513.73" cy="90.75" r="6.6"/>
<circle cx="515.35" cy="90.17" r="6.6"/>
<circle cx="516.98" cy="90.56" r="6.6"/>
<circle cx="518.6" cy="91.08" r="6.6"/>
<circle cx="520.23" cy="91.78" r="6.6"/>
<circle cx="521.85" cy="91.89" r="6.6"/>
<circle cx="523.48" cy="90.38" r="6.6"/>
<circle cx="525.1" cy="89.92" r="6.6"/>
<circle cx="526.73" cy="91.56" r="6.6"/>
<circle cx="528.35" cy="91.75" r="6.6"/>
<circle cx="529.98" cy="90.82" r="6.6"/>
<circle cx="531.6" cy="91.44" r="6.6"/>
<circle cx="533.23" cy="91.63" r="6.6"/>
<circle cx="534.85" cy="91.12" r="6.6"/>
<circle cx="536.48" cy="91.65" r="6.6"/>
<circle cx="538.1" cy="89.95" r="6.6"/>
<circle cx="539.73" cy="90.44" r="6.6"/>
<circle cx="541.35" cy="90.45" r="6.6"/>
<circle cx="542.98" cy="90.14" r="6.6"/>
<circle cx="544.6" cy="91.72" r="6.6"/>
<circle cx="546.23" cy="89.96" r="6.6"/>
<circle cx="547.85" cy="91.25" r="6.6"/>
<circle cx="549.48" cy="90.04" r="6.6"/>
<circle cx="551.1" cy="90.62" r="6.6"/>
<circle cx="552.73" cy="90.74" r="6.6"/>
<circle cx="554.35" cy="90.26" r="6.6"/>
<circle cx="555.98" cy="90.94" r="6.6"/>
<circle cx="557.6" cy="90.97" r="6.6"/>
<circle cx="559.23" cy="90.53" r="6.6"/>
<circle cx="560.85" cy="91.37" r="6.6"/>
<circle cx="562.48" cy="90.22" r="6.6"/>
<circle cx="564.1" cy="90.29" r="6.6"/>
<circle cx="565.73" cy="90.61" r="6.6"/>
<circle cx="567.35" cy="90.66" r="6.6"/>
<circle cx="568.98" cy="90.31" r="6.6"/>
<circle cx="570.6" cy="91.74" r="6.6"/>
<circle cx="572.23" cy="91.56" r="6.6"/>
<circle cx="573.85" cy="90.11" r="6.6"/>
<circle cx="575.48" cy="90.64" r="6.6"/>
<circle cx="577.1" cy="90.37" r="6.6"/>
<circle cx="578.73" cy="90.8" r="6.6"/>
<circle cx="580.35" cy="90.45" r="6.6"/>
<circle cx="581.98" cy="90.9" r="6.6"/>
<circle cx="583.6" cy="91.75" r="6.6"/>
<circle cx="585.23" cy="90.67" r="6.6"/>
<circle cx="586.85" cy="89.68" r="6.6"/>
<circle cx="588.48" cy="89.61" r="6.6"/>
<circle cx="590.1" cy="89.8" r="6.6"/>
<circle cx="591.73" cy="88.97" r="6.6"/>
<circle cx="593.35" cy="89.79" r="6.6"/>
<circle cx="594.98" cy="90.04" r="6.6"/>
<circle cx="596.6" cy="89.62" r="6.6"/>
<circle cx="598.23" cy="89.25" r="6.6"/>
<circle cx="599.85" cy="89.71" r="6.6"/>
<circle cx="601.48" cy="89.75" r="6.6"/>
<circle cx="603.1" cy="89.69" r="6.6"/>
<circle cx="604.73" cy="89.08" r="6.6"/>
<circle cx="606.35" cy="90.07" r="6.6"/>
<circle cx="607.98" cy="90.05" r="6.6"/>
<circle cx="609.6" cy="89.41" r="6.6"/>
<circle cx="611.23" cy="89.61" r="6.6"/>
<circle cx="612.85" cy="88.95" r="6.6"/>
<circle cx="614.48" cy="90.09" r="6.6"/>
<circle cx="616.1" cy="89.88" r="6.6"/>
<circle cx="617.73" cy="89.66" r="6.6"/>
<circle cx="619.35" cy="89.81" r="6.6"/>
<circle cx="620.98" cy="89.13" r="6.6"/>
<circle cx="622.6" cy="89.27" r="6.6"/>
<circle cx="624.23" cy="89.2" r="6.6"/>
<circle cx="625.85" cy="89.62" r="6.6"/>
<circle cx="627.48" cy="89.01" r="6.6"/>
<circle cx="629.1" cy="89.97" r="6.6"/>
<circle cx="630.73" cy="89.45" r="6.6"/>
<circle cx="632.35" cy="89.43" r="6.6"/>
<circle cx="633.98" cy="89.03" r="6.6"/>
<circle cx="635.6" cy="89.72" r="6.6"/>
<circle cx="637.23" cy="89.88" r="6.6"/>
<circle cx="638.85" cy="89.66" r="6.6"/>
<circle cx="640.48" cy="89.19" r="6.6"/>
<circle cx="642.1" cy="89.84" r="6.6"/>
<circle cx="643.73" cy="89.07" r="6.6"/>
<circle cx="645.35" cy="89.89" r="6.6"/>
<circle cx="646.98" cy="89.6" r="6.6"/>
<circle cx="648.6" cy="89.25" r="6.6"/>
<circle cx="650.23" cy="89.52" r="6.6"/>
<circle cx="651.85" cy="89.65" r="6.6"/>
<circle cx="653.48" cy="89.21" r="6.6"/>
<circle cx="655.1" cy="89.92" r="6.6"/>
<circle cx="656.73" cy="89.41" r="6.6"/>
<circle cx="658.35" cy="89.97" r="6.6"/>
<circle cx="659.98" cy="89.9" r="6.6"/>
<circle cx="661.6" cy="89.02" r="6.6"/>
<circle cx="663.23" cy="89.68" r="6.6"/>
<circle cx="664.85" cy="89.27" r="6.6"/>
<circle cx="666.48" cy="89.8" r="6.6"/>
<circle cx="668.1" cy="89.55" r="6.6"/>
<circle cx="669.73" cy="89.45" r="6.6"/>
<circle cx="671.35" cy="89.97" r="6.6"/>
<circle cx="672.98" cy="88.97" r="6.6"/>
<circle cx="674.6" cy="89.57" r="6.6"/>
<circle cx="676.23" cy="89.29" r="6.6"/>
<circle cx="677.85" cy="88.94" r="6.6"/>
<circle cx="679.48" cy="89.8" r="6.6"/>
<circle cx="681.1" cy="89.57" r="6.6"/>
<circle cx="682.73" cy="89.97" r="6.6"/>
<circle cx="684.35" cy="89.62" r="6.6"/>
<circle cx="685.98" cy="89.3" r="6.6"/>
<circle cx="687.6" cy="90.08" r="6.6"/>
<circle cx="689.23" cy="89.04" r="6.6"/>
<circle cx="690.85" cy="88.96" r="6.6"/>
<circle cx="692.48" cy="89.78" r="6.6"/>
<circle cx="694.1" cy="89.35" r="6.6"/>
<circle cx="695.73" cy="89.33" r="6.6"/>
<circle cx="697.35" cy="89.95" r="6.6"/>
<circle cx="698.98" cy="89.29" r="6.6"/>
<circle cx="700.6" cy="89.97" r="6.6"/>
<circle cx="702.23" cy="89.67" r="6.6"/>
<circle cx="703.85" cy="89.29" r="6.6"/>
<circle cx="705.48" cy="88.97" r="6.6"/>
<circle cx="707.1" cy="89.19" r="6.6"/>
<circle cx="708.73" cy="90.06" r="6.6"/>
<circle cx="710.35" cy="89.39" r="6.6"/>
<circle cx="711.98" cy="89.09" r="6.6"/>
<circle cx="713.6" cy="89.26" r="6.6"/>
<circle cx="715.23" cy="89.98" r="6.6"/>
<circle cx="716.85" cy="89.1" r="6.6"/>
<circle cx="718.48" cy="89.83" r="6.6"/>
<circle cx="720.1" cy="89.06" r="6.6"/>
<circle cx="721.73" cy="90.05" r="6.6"/>
<circle cx="723.35" cy="89.54" r="6.6"/>
<circle cx="724.98" cy="88.95" r="6.6"/>
<circle cx="726.6" cy="90.02" r="6.6"/>
<circle cx="728.23" cy="89.33" r="6.6"/>
<circle cx="729.85" cy="89.78" r="6.6"/>
<circle cx="731.48" cy="89.53" r="6.6"/>
<circle cx="733.1" cy="89.01" r="6.6"/>
<circle cx="734.73" cy="89.03" r="6.6"/>
<circle cx="736.35" cy="89.08" r="6.6"/>
</g>
<g>
<line x1="187.1" y1="28.6" x2="187.1" y2="521.4" stroke="#b0b0b0" stroke-width="1.45"/>
<line x1="349.6" y1="28.6" x2="349.6" y2="521.4" stroke="#b0b0b0" stroke-width="1.45"/>
<line x1="512.1" y1="28.6" x2="512.1" y2="521.4" stroke="#b0b0b0" stroke-width="1.45"/>
<line x1="674.6" y1="28.6" x2="674.6" y2="521.4" stroke="#b0b0b0" stroke-width="1.45"/>
<line x1="132.5" y1="89.6" x2="792.9" y2="89.6" stroke="#b0b0b0" stroke-width="1.45"/>
<line x1="132.5" y1="213.7" x2="792.9" y2="213.7" stroke="#b0b0b0" stroke-width="1.45"/>
<line x1="132.5" y1="336.2" x2="792.9" y2="336.2" stroke="#b0b0b0" stroke-width="1.45"/>
<line x1="132.5" y1="459.9" x2="792.9" y2="459.9" stroke="#b0b0b0" stroke-width="1.45"/>
</g>
<rect x="132.5" y="28.6" width="660.4" height="492.8" fill="none" stroke="#000" stroke-width="1.45"/>
<line x1="187.1" y1="521.4" x2="187.1" y2="528.4" stroke="#000" stroke-width="1.45"/>
<text x="187.1" y="559.4" text-anchor="middle" font-size="32">0</text>
<line x1="349.6" y1="521.4" x2="349.6" y2="528.4" stroke="#000" stroke-width="1.45"/>
<text x="349.6" y="559.4" text-anchor="middle" font-size="32">100</text>
<line x1="512.1" y1="521.4" x2="512.1" y2="528.4" stroke="#000" stroke-width="1.45"/>
<text x="512.1" y="559.4" text-anchor="middle" font-size="32">200</text>
<line x1="674.6" y1="521.4" x2="674.6" y2="528.4" stroke="#000" stroke-width="1.45"/>
<text x="674.6" y="559.4" text-anchor="middle" font-size="32">300</text>
<line x1="125.5" y1="89.6" x2="132.5" y2="89.6" stroke="#000" stroke-width="1.45"/>
<text x="118.5" y="102.2" text-anchor="end" font-size="32">10<tspan font-size="22.4" dy="-13.5">0</tspan></text>
<line x1="128.5" y1="132.97" x2="132.5" y2="132.97" stroke="#000" stroke-width="1.2"/>
<line x1="128.5" y1="114.29" x2="132.5" y2="114.29" stroke="#000" stroke-width="1.2"/>
<line x1="128.5" y1="103.37" x2="132.5" y2="103.37" stroke="#000" stroke-width="1.2"/>
<line x1="128.5" y1="95.61" x2="132.5" y2="95.61" stroke="#000" stroke-width="1.2"/>
<line x1="125.5" y1="213.7" x2="132.5" y2="213.7" stroke="#000" stroke-width="1.45"/>
<text x="118.5" y="226.3" text-anchor="end" font-size="32">10<tspan font-size="22.4" dy="-13.5">−2</tspan></text>
<line x1="128.5" y1="256.51" x2="132.5" y2="256.51" stroke="#000" stroke-width="1.2"/>
<line x1="128.5" y1="238.07" x2="132.5" y2="238.07" stroke="#000" stroke-width="1.2"/>
<line x1="128.5" y1="227.29" x2="132.5" y2="227.29" stroke="#000" stroke-width="1.2"/>
<line x1="128.5" y1="219.64" x2="132.5" y2="219.64" stroke="#000" stroke-width="1.2"/>
<line x1="125.5" y1="336.2" x2="132.5" y2="336.2" stroke="#000" stroke-width="1.45"/>
<text x="118.5" y="348.8" text-anchor="end" font-size="32">10<tspan font-size="22.4" dy="-13.5">−4</tspan></text>
<line x1="128.5" y1="379.43" x2="132.5" y2="379.43" stroke="#000" stroke-width="1.2"/>
<line x1="128.5" y1="360.81" x2="132.5" y2="360.81" stroke="#000" stroke-width="1.2"/>
<line x1="128.5" y1="349.92" x2="132.5" y2="349.92" stroke="#000" stroke-width="1.2"/>
<line x1="128.5" y1="342.19" x2="132.5" y2="342.19" stroke="#000" stroke-width="1.2"/>
<line x1="125.5" y1="459.9" x2="132.5" y2="459.9" stroke="#000" stroke-width="1.45"/>
<text x="118.5" y="472.5" text-anchor="end" font-size="32">10<tspan font-size="22.4" dy="-13.5">−6</tspan></text>
<line x1="128.5" y1="503.04" x2="132.5" y2="503.04" stroke="#000" stroke-width="1.2"/>
<line x1="128.5" y1="484.46" x2="132.5" y2="484.46" stroke="#000" stroke-width="1.2"/>
<line x1="128.5" y1="473.59" x2="132.5" y2="473.59" stroke="#000" stroke-width="1.2"/>
<line x1="128.5" y1="465.88" x2="132.5" y2="465.88" stroke="#000" stroke-width="1.2"/>
<text x="462.7" y="600.5" font-size="32" text-anchor="middle">eigenvalue index (<tspan font-style="italic">i</tspan>)</text>
<text transform="translate(24.7,275) rotate(-90)" font-size="32" text-anchor="middle">eigenvalue (<tspan font-style="italic">λ</tspan><tspan font-style="italic" font-size="22.4" dy="6">i</tspan><tspan dy="-6">)</tspan></text>
<path d="M1452.95,281.5 L1454.48,279.95 L1455.99,278.38 L1457.48,276.78 L1458.95,275.15 L1460.39,273.5 L1461.8,271.82 L1463.18,270.12 L1464.52,268.39 L1465.83,266.65 L1467.09,264.88 L1468.31,263.09 L1469.48,261.28 L1470.59,259.45 L1471.66,257.61 L1472.67,255.75 L1473.63,253.88 L1474.52,252 L1475.35,250.1 L1476.11,248.2 L1476.81,246.29 L1477.44,244.37 L1478,242.45 L1478.49,240.53 L1478.9,238.61 L1479.24,236.69 L1479.5,234.77 L1479.69,232.86 L1479.79,230.96 L1479.82,229.07 L1479.77,227.19 L1479.64,225.33 L1479.43,223.48 L1479.14,221.65 L1478.77,219.84 L1478.32,218.06 L1477.79,216.29 L1477.18,214.55 L1476.5,212.84 L1475.73,211.16 L1474.89,209.51 L1473.98,207.89 L1472.99,206.31 L1471.92,204.76 L1470.79,203.25 L1469.58,201.77 L1468.31,200.34 L1466.97,198.94 L1465.57,197.59 L1464.11,196.28 L1462.58,195.01 L1461,193.78 L1459.37,192.6 L1457.68,191.47 L1455.94,190.38 L1454.16,189.33 L1452.33,188.33 L1450.46,187.38 L1448.55,186.47 L1446.6,185.6 L1444.62,184.78 L1442.61,184.01 L1440.57,183.28 L1438.51,182.59 L1436.43,181.94 L1434.33,181.33 L1432.21,180.77 L1430.09,180.24 L1427.95,179.75 L1425.81,179.3 L1423.66,178.88 L1421.51,178.49 L1419.37,178.14 L1417.23,177.81 L1415.09,177.52 L1412.97,177.24 L1410.86,177 L1408.76,176.77 L1406.69,176.56 L1404.63,176.37 L1402.59,176.2 L1400.58,176.04 L1398.6,175.88 L1396.64,175.74 L1394.71,175.6 L1392.82,175.46 L1390.96,175.33 L1389.13,175.19 L1387.33,175.05 L1385.58,174.9 L1383.86,174.74 L1382.18,174.57 L1380.54,174.38 L1378.94,174.18 L1377.38,173.96 L1375.86,173.72 L1374.39,173.45 L1372.95,173.16 L1371.56,172.84 L1370.2,172.49 L1368.89,172.11 L1367.62,171.69 L1366.39,171.24 L1365.19,170.75 L1364.04,170.22 L1362.92,169.65 L1361.84,169.04 L1360.8,168.39 L1359.79,167.69 L1358.81,166.94 L1357.87,166.15 L1356.95,165.31 L1356.07,164.43 L1355.21,163.49 L1354.37,162.51 L1353.56,161.48 L1352.77,160.4 L1352,159.27 L1351.25,158.09 L1350.52,156.86 L1349.8,155.59 L1349.09,154.26 L1348.39,152.9 L1347.69,151.48 L1347.01,150.02 L1346.33,148.52 L1345.64,146.97 L1344.96,145.39 L1344.28,143.77 L1343.59,142.1 L1342.89,140.41 L1342.19,138.68 L1341.47,136.92 L1340.74,135.13 L1340,133.31 L1339.24,131.47 L1338.47,129.61 L1337.67,127.73 L1336.86,125.83 L1336.02,123.92 L1335.16,121.99 L1334.27,120.06 L1333.35,118.13 L1332.41,116.19 L1331.44,114.26 L1330.44,112.33 L1329.41,110.4 L1328.35,108.49 L1327.25,106.59 L1326.13,104.71 L1324.97,102.85 L1323.78,101.01 L1322.55,99.2 L1321.29,97.42 L1320,95.67 L1318.68,93.96 L1317.32,92.29 L1315.93,90.66 L1314.5,89.08 L1313.05,87.54 L1311.56,86.06 L1310.05,84.63 L1308.5,83.25 L1306.92,81.94 L1305.32,80.68 L1303.7,79.49 L1302.04,78.37 L1300.36,77.31 L1298.67,76.32 L1296.94,75.41 L1295.2,74.57 L1293.45,73.8 L1291.67,73.11 L1289.88,72.5 L1288.08,71.97 L1286.27,71.51 L1284.45,71.14 L1282.62,70.85 L1280.78,70.65 L1278.94,70.52 L1277.1,70.48 L1275.26,70.52 L1273.42,70.65 L1271.58,70.85 L1269.75,71.14 L1267.93,71.51 L1266.12,71.97 L1264.32,72.5 L1262.53,73.11 L1260.75,73.8 L1259,74.57 L1257.26,75.41 L1255.53,76.32 L1253.84,77.31 L1252.16,78.37 L1250.5,79.49 L1248.88,80.68 L1247.28,81.94 L1245.7,83.25 L1244.15,84.63 L1242.64,86.06 L1241.15,87.54 L1239.7,89.08 L1238.27,90.66 L1236.88,92.29 L1235.52,93.96 L1234.2,95.67 L1232.91,97.42 L1231.65,99.2 L1230.42,101.01 L1229.23,102.85 L1228.07,104.71 L1226.95,106.59 L1225.85,108.49 L1224.79,110.4 L1223.76,112.33 L1222.76,114.26 L1221.79,116.19 L1220.85,118.13 L1219.93,120.06 L1219.04,121.99 L1218.18,123.92 L1217.34,125.83 L1216.53,127.73 L1215.73,129.61 L1214.96,131.47 L1214.2,133.31 L1213.46,135.13 L1212.73,136.92 L1212.01,138.68 L1211.31,140.41 L1210.61,142.1 L1209.92,143.77 L1209.24,145.39 L1208.56,146.97 L1207.87,148.52 L1207.19,150.02 L1206.51,151.48 L1205.81,152.9 L1205.11,154.26 L1204.4,155.59 L1203.68,156.86 L1202.95,158.09 L1202.2,159.27 L1201.43,160.4 L1200.64,161.48 L1199.83,162.51 L1198.99,163.49 L1198.13,164.43 L1197.25,165.31 L1196.33,166.15 L1195.39,166.94 L1194.41,167.69 L1193.4,168.39 L1192.36,169.04 L1191.28,169.65 L1190.16,170.22 L1189.01,170.75 L1187.81,171.24 L1186.58,171.69 L1185.31,172.11 L1184,172.49 L1182.64,172.84 L1181.25,173.16 L1179.81,173.45 L1178.34,173.72 L1176.82,173.96 L1175.26,174.18 L1173.66,174.38 L1172.02,174.57 L1170.34,174.74 L1168.62,174.9 L1166.87,175.05 L1165.07,175.19 L1163.24,175.33 L1161.38,175.46 L1159.49,175.6 L1157.56,175.74 L1155.6,175.88 L1153.62,176.04 L1151.61,176.2 L1149.57,176.37 L1147.51,176.56 L1145.44,176.77 L1143.34,177 L1141.23,177.24 L1139.11,177.52 L1136.97,177.81 L1134.83,178.14 L1132.69,178.49 L1130.54,178.88 L1128.39,179.3 L1126.25,179.75 L1124.11,180.24 L1121.99,180.77 L1119.87,181.33 L1117.77,181.94 L1115.69,182.59 L1113.63,183.28 L1111.59,184.01 L1109.58,184.78 L1107.6,185.6 L1105.65,186.47 L1103.74,187.38 L1101.87,188.33 L1100.04,189.33 L1098.26,190.38 L1096.52,191.47 L1094.83,192.6 L1093.2,193.78 L1091.62,195.01 L1090.09,196.28 L1088.63,197.59 L1087.23,198.94 L1085.89,200.34 L1084.62,201.77 L1083.41,203.25 L1082.28,204.76 L1081.21,206.31 L1080.22,207.89 L1079.31,209.51 L1078.47,211.16 L1077.7,212.84 L1077.02,214.55 L1076.41,216.29 L1075.88,218.06 L1075.43,219.84 L1075.06,221.65 L1074.77,223.48 L1074.56,225.33 L1074.43,227.19 L1074.38,229.07 L1074.41,230.96 L1074.51,232.86 L1074.7,234.77 L1074.96,236.69 L1075.3,238.61 L1075.71,240.53 L1076.2,242.45 L1076.76,244.37 L1077.39,246.29 L1078.09,248.2 L1078.85,250.1 L1079.68,252 L1080.57,253.88 L1081.53,255.75 L1082.54,257.61 L1083.61,259.45 L1084.72,261.28 L1085.89,263.09 L1087.11,264.88 L1088.37,266.65 L1089.68,268.39 L1091.02,270.12 L1092.4,271.82 L1093.81,273.5 L1095.25,275.15 L1096.72,276.78 L1098.21,278.38 L1099.72,279.95 L1101.25,281.5 L1102.79,283.02 L1104.34,284.52 L1105.9,285.98 L1107.46,287.42 L1109.02,288.84 L1110.58,290.23 L1112.13,291.59 L1113.68,292.93 L1115.21,294.24 L1116.73,295.53 L1118.22,296.8 L1119.7,298.04 L1121.16,299.27 L1122.58,300.47 L1123.98,301.66 L1125.35,302.83 L1126.68,303.98 L1127.98,305.12 L1129.24,306.24 L1130.45,307.36 L1131.63,308.46 L1132.76,309.56 L1133.85,310.65 L1134.89,311.73 L1135.88,312.81 L1136.81,313.89 L1137.7,314.97 L1138.54,316.05 L1139.33,317.13 L1140.06,318.22 L1140.73,319.32 L1141.36,320.42 L1141.92,321.54 L1142.44,322.67 L1142.9,323.81 L1143.31,324.97 L1143.66,326.15 L1143.96,327.34 L1144.21,328.56 L1144.4,329.8 L1144.55,331.06 L1144.65,332.34 L1144.69,333.66 L1144.7,334.99 L1144.66,336.36 L1144.57,337.76 L1144.44,339.18 L1144.28,340.64 L1144.07,342.12 L1143.84,343.64 L1143.56,345.19 L1143.26,346.78 L1142.93,348.39 L1142.57,350.04 L1142.19,351.73 L1141.79,353.44 L1141.38,355.19 L1140.94,356.97 L1140.49,358.79 L1140.04,360.63 L1139.58,362.51 L1139.11,364.41 L1138.64,366.35 L1138.17,368.31 L1137.71,370.3 L1137.25,372.32 L1136.81,374.36 L1136.38,376.42 L1135.96,378.5 L1135.56,380.61 L1135.19,382.73 L1134.83,384.86 L1134.51,387.01 L1134.21,389.17 L1133.95,391.35 L1133.72,393.52 L1133.52,395.71 L1133.36,397.89 L1133.25,400.08 L1133.18,402.27 L1133.15,404.45 L1133.17,406.62 L1133.23,408.78 L1133.35,410.93 L1133.52,413.07 L1133.74,415.19 L1134.01,417.28 L1134.34,419.36 L1134.73,421.41 L1135.17,423.43 L1135.67,425.42 L1136.23,427.38 L1136.85,429.3 L1137.52,431.18 L1138.26,433.02 L1139.05,434.82 L1139.91,436.57 L1140.82,438.27 L1141.79,439.93 L1142.82,441.53 L1143.91,443.07 L1145.05,444.56 L1146.26,445.99 L1147.51,447.36 L1148.82,448.67 L1150.19,449.92 L1151.6,451.1 L1153.07,452.22 L1154.58,453.27 L1156.14,454.25 L1157.75,455.16 L1159.4,456 L1161.09,456.77 L1162.82,457.47 L1164.59,458.1 L1166.4,458.66 L1168.24,459.14 L1170.11,459.55 L1172.02,459.9 L1173.95,460.17 L1175.9,460.37 L1177.88,460.5 L1179.88,460.56 L1181.9,460.55 L1183.93,460.48 L1185.98,460.34 L1188.03,460.14 L1190.1,459.87 L1192.18,459.54 L1194.26,459.16 L1196.34,458.71 L1198.42,458.21 L1200.5,457.66 L1202.58,457.05 L1204.65,456.4 L1206.72,455.7 L1208.77,454.95 L1210.82,454.17 L1212.85,453.34 L1214.87,452.48 L1216.87,451.59 L1218.85,450.67 L1220.82,449.72 L1222.76,448.74 L1224.68,447.75 L1226.58,446.73 L1228.46,445.71 L1230.31,444.67 L1232.14,443.62 L1233.94,442.57 L1235.72,441.51 L1237.47,440.45 L1239.19,439.4 L1240.89,438.36 L1242.55,437.33 L1244.19,436.31 L1245.81,435.3 L1247.4,434.32 L1248.96,433.35 L1250.49,432.42 L1252,431.5 L1253.48,430.62 L1254.94,429.77 L1256.38,428.96 L1257.79,428.18 L1259.18,427.44 L1260.55,426.75 L1261.9,426.1 L1263.24,425.49 L1264.55,424.93 L1265.85,424.42 L1267.14,423.95 L1268.41,423.54 L1269.67,423.18 L1270.93,422.88 L1272.17,422.63 L1273.41,422.43 L1274.64,422.29 L1275.87,422.21 L1277.1,422.18 L1278.33,422.21 L1279.56,422.29 L1280.79,422.43 L1282.03,422.63 L1283.27,422.88 L1284.53,423.18 L1285.79,423.54 L1287.06,423.95 L1288.35,424.42 L1289.65,424.93 L1290.96,425.49 L1292.3,426.1 L1293.65,426.75 L1295.02,427.44 L1296.41,428.18 L1297.82,428.96 L1299.26,429.77 L1300.72,430.62 L1302.2,431.5 L1303.71,432.42 L1305.24,433.35 L1306.8,434.32 L1308.39,435.3 L1310.01,436.31 L1311.65,437.33 L1313.31,438.36 L1315.01,439.4 L1316.73,440.45 L1318.48,441.51 L1320.26,442.57 L1322.06,443.62 L1323.89,444.67 L1325.74,445.71 L1327.62,446.73 L1329.52,447.75 L1331.44,448.74 L1333.38,449.72 L1335.35,450.67 L1337.33,451.59 L1339.33,452.48 L1341.35,453.34 L1343.38,454.17 L1345.43,454.95 L1347.48,455.7 L1349.55,456.4 L1351.62,457.05 L1353.7,457.66 L1355.78,458.21 L1357.86,458.71 L1359.94,459.16 L1362.02,459.54 L1364.1,459.87 L1366.17,460.14 L1368.22,460.34 L1370.27,460.48 L1372.3,460.55 L1374.32,460.56 L1376.32,460.5 L1378.3,460.37 L1380.25,460.17 L1382.18,459.9 L1384.09,459.55 L1385.96,459.14 L1387.8,458.66 L1389.61,458.1 L1391.38,457.47 L1393.11,456.77 L1394.8,456 L1396.45,455.16 L1398.06,454.25 L1399.62,453.27 L1401.13,452.22 L1402.6,451.1 L1404.01,449.92 L1405.38,448.67 L1406.69,447.36 L1407.94,445.99 L1409.15,444.56 L1410.29,443.07 L1411.38,441.53 L1412.41,439.93 L1413.38,438.27 L1414.29,436.57 L1415.15,434.82 L1415.94,433.02 L1416.68,431.18 L1417.35,429.3 L1417.97,427.38 L1418.53,425.42 L1419.03,423.43 L1419.47,421.41 L1419.86,419.36 L1420.19,417.28 L1420.46,415.19 L1420.68,413.07 L1420.85,410.93 L1420.97,408.78 L1421.03,406.62 L1421.05,404.45 L1421.02,402.27 L1420.95,400.08 L1420.84,397.89 L1420.68,395.71 L1420.48,393.52 L1420.25,391.35 L1419.99,389.17 L1419.69,387.01 L1419.37,384.86 L1419.01,382.73 L1418.64,380.61 L1418.24,378.5 L1417.82,376.42 L1417.39,374.36 L1416.95,372.32 L1416.49,370.3 L1416.03,368.31 L1415.56,366.35 L1415.09,364.41 L1414.62,362.51 L1414.16,360.63 L1413.71,358.79 L1413.26,356.97 L1412.82,355.19 L1412.41,353.44 L1412.01,351.73 L1411.63,350.04 L1411.27,348.39 L1410.94,346.78 L1410.64,345.19 L1410.36,343.64 L1410.13,342.12 L1409.92,340.64 L1409.76,339.18 L1409.63,337.76 L1409.54,336.36 L1409.5,334.99 L1409.51,333.66 L1409.55,332.34 L1409.65,331.06 L1409.8,329.8 L1409.99,328.56 L1410.24,327.34 L1410.54,326.15 L1410.89,324.97 L1411.3,323.81 L1411.76,322.67 L1412.28,321.54 L1412.84,320.42 L1413.47,319.32 L1414.14,318.22 L1414.87,317.13 L1415.66,316.05 L1416.5,314.97 L1417.39,313.89 L1418.32,312.81 L1419.31,311.73 L1420.35,310.65 L1421.44,309.56 L1422.57,308.46 L1423.75,307.36 L1424.96,306.24 L1426.22,305.12 L1427.52,303.98 L1428.85,302.83 L1430.22,301.66 L1431.62,300.47 L1433.04,299.27 L1434.5,298.04 L1435.98,296.8 L1437.47,295.53 L1438.99,294.24 L1440.52,292.93 L1442.07,291.59 L1443.62,290.23 L1445.18,288.84 L1446.74,287.42 L1448.3,285.98 L1449.86,284.52 L1451.41,283.02 Z" fill="#1cffdb"/>
<polygon points="1226.6,105.6 1231.9,98.4 1232.6,102.2" fill="#8a1a1a"/>
<g stroke="#000" stroke-opacity="0.145" stroke-width="2.2">
<line x1="1057.29" y1="36.8" x2="1057.29" y2="529.2"/>
<line x1="1031.1" y1="501.31" x2="1524.2" y2="501.31"/>
<line x1="1101.25" y1="36.8" x2="1101.25" y2="529.2"/>
<line x1="1031.1" y1="457.35" x2="1524.2" y2="457.35"/>
<line x1="1145.21" y1="36.8" x2="1145.21" y2="529.2"/>
<line x1="1031.1" y1="413.39" x2="1524.2" y2="413.39"/>
<line x1="1189.17" y1="36.8" x2="1189.17" y2="529.2"/>
<line x1="1031.1" y1="369.43" x2="1524.2" y2="369.43"/>
<line x1="1233.14" y1="36.8" x2="1233.14" y2="529.2"/>
<line x1="1031.1" y1="325.46" x2="1524.2" y2="325.46"/>
<line x1="1277.1" y1="36.8" x2="1277.1" y2="529.2"/>
<line x1="1031.1" y1="281.5" x2="1524.2" y2="281.5"/>
<line x1="1321.06" y1="36.8" x2="1321.06" y2="529.2"/>
<line x1="1031.1" y1="237.54" x2="1524.2" y2="237.54"/>
<line x1="1365.02" y1="36.8" x2="1365.02" y2="529.2"/>
<line x1="1031.1" y1="193.57" x2="1524.2" y2="193.57"/>
<line x1="1408.99" y1="36.8" x2="1408.99" y2="529.2"/>
<line x1="1031.1" y1="149.61" x2="1524.2" y2="149.61"/>
<line x1="1452.95" y1="36.8" x2="1452.95" y2="529.2"/>
<line x1="1031.1" y1="105.65" x2="1524.2" y2="105.65"/>
<line x1="1496.91" y1="36.8" x2="1496.91" y2="529.2"/>
<line x1="1031.1" y1="61.69" x2="1524.2" y2="61.69"/>
</g>
<rect x="1031.1" y="36.8" width="493.1" height="492.4" fill="none" stroke="#000" stroke-width="1.45"/>
<line x1="1101.5" y1="529.2" x2="1101.5" y2="536.2" stroke="#000" stroke-width="1.45"/>
<text x="1101.5" y="568" text-anchor="middle" font-size="32">−0.5</text>
<line x1="1277.35" y1="529.2" x2="1277.35" y2="536.2" stroke="#000" stroke-width="1.45"/>
<text x="1277.35" y="568" text-anchor="middle" font-size="32">0.0</text>
<line x1="1453.2" y1="529.2" x2="1453.2" y2="536.2" stroke="#000" stroke-width="1.45"/>
<text x="1453.2" y="568" text-anchor="middle" font-size="32">0.5</text>
<line x1="1024.1" y1="493.42" x2="1031.1" y2="493.42" stroke="#000" stroke-width="1.45"/>
<text x="1017.1" y="505.52" text-anchor="end" font-size="32">−0.6</text>
<line x1="1024.1" y1="423.08" x2="1031.1" y2="423.08" stroke="#000" stroke-width="1.45"/>
<text x="1017.1" y="435.18" text-anchor="end" font-size="32">−0.4</text>
<line x1="1024.1" y1="352.74" x2="1031.1" y2="352.74" stroke="#000" stroke-width="1.45"/>
<text x="1017.1" y="364.84" text-anchor="end" font-size="32">−0.2</text>
<line x1="1024.1" y1="282.4" x2="1031.1" y2="282.4" stroke="#000" stroke-width="1.45"/>
<text x="1017.1" y="294.5" text-anchor="end" font-size="32">0.0</text>
<line x1="1024.1" y1="212.06" x2="1031.1" y2="212.06" stroke="#000" stroke-width="1.45"/>
<text x="1017.1" y="224.16" text-anchor="end" font-size="32">0.2</text>
<line x1="1024.1" y1="141.72" x2="1031.1" y2="141.72" stroke="#000" stroke-width="1.45"/>
<text x="1017.1" y="153.82" text-anchor="end" font-size="32">0.4</text>
<line x1="1024.1" y1="71.38" x2="1031.1" y2="71.38" stroke="#000" stroke-width="1.45"/>
<text x="1017.1" y="83.48" text-anchor="end" font-size="32">0.6</text>
<rect x="1558.2" y="36.8" width="24.2" height="492.4" fill="url(#cbb)" stroke="#000" stroke-width="1.45"/>
<line x1="1582.4" y1="46.02" x2="1589.4" y2="46.02" stroke="#000" stroke-width="1.45"/>
<text x="1594.7" y="58.12" text-anchor="start" font-size="32">0.000005</text>
<line x1="1582.4" y1="104.73" x2="1589.4" y2="104.73" stroke="#000" stroke-width="1.45"/>
<text x="1594.7" y="116.83" text-anchor="start" font-size="32">0.000004</text>
<line x1="1582.4" y1="163.44" x2="1589.4" y2="163.44" stroke="#000" stroke-width="1.45"/>
<text x="1594.7" y="175.54" text-anchor="start" font-size="32">0.000003</text>
<line x1="1582.4" y1="222.15" x2="1589.4" y2="222.15" stroke="#000" stroke-width="1.45"/>
<text x="1594.7" y="234.25" text-anchor="start" font-size="32">0.000002</text>
<line x1="1582.4" y1="280.86" x2="1589.4" y2="280.86" stroke="#000" stroke-width="1.45"/>
<text x="1594.7" y="292.96" text-anchor="start" font-size="32">0.000001</text>
<line x1="1582.4" y1="339.57" x2="1589.4" y2="339.57" stroke="#000" stroke-width="1.45"/>
<text x="1594.7" y="351.67" text-anchor="start" font-size="32">0.000000</text>
<line x1="1582.4" y1="398.28" x2="1589.4" y2="398.28" stroke="#000" stroke-width="1.45"/>
<text x="1594.7" y="410.38" text-anchor="start" font-size="32">−0.000001</text>
<line x1="1582.4" y1="456.99" x2="1589.4" y2="456.99" stroke="#000" stroke-width="1.45"/>
<text x="1594.7" y="469.09" text-anchor="start" font-size="32">−0.000002</text>
<line x1="1582.4" y1="515.7" x2="1589.4" y2="515.7" stroke="#000" stroke-width="1.45"/>
<text x="1594.7" y="527.8" text-anchor="start" font-size="32">−0.000003</text>
<text x="1159.9" y="24.8" font-size="32" font-style="italic">λ</text>
<text x="1183.8" y="24.8" font-size="32">=</text>
<text x="1227.3" y="24.8" font-size="32">+3.20E-06</text>
<path d="M617.35,1017.9 L618.88,1016.35 L620.39,1014.78 L621.88,1013.18 L623.35,1011.55 L624.79,1009.9 L626.2,1008.22 L627.58,1006.52 L628.92,1004.79 L630.23,1003.05 L631.49,1001.28 L632.71,999.49 L633.88,997.68 L634.99,995.85 L636.06,994.01 L637.07,992.15 L638.03,990.28 L638.92,988.4 L639.75,986.5 L640.51,984.6 L641.21,982.69 L641.84,980.77 L642.4,978.85 L642.89,976.93 L643.3,975.01 L643.64,973.09 L643.9,971.17 L644.09,969.26 L644.19,967.36 L644.22,965.47 L644.17,963.59 L644.04,961.73 L643.83,959.88 L643.54,958.05 L643.17,956.24 L642.72,954.46 L642.19,952.69 L641.58,950.95 L640.9,949.24 L640.13,947.56 L639.29,945.91 L638.38,944.29 L637.39,942.71 L636.32,941.16 L635.19,939.65 L633.98,938.17 L632.71,936.74 L631.37,935.34 L629.97,933.99 L628.51,932.68 L626.98,931.41 L625.4,930.18 L623.77,929 L622.08,927.87 L620.34,926.78 L618.56,925.73 L616.73,924.73 L614.86,923.78 L612.95,922.87 L611,922 L609.02,921.18 L607.01,920.41 L604.97,919.68 L602.91,918.99 L600.83,918.34 L598.73,917.73 L596.61,917.17 L594.49,916.64 L592.35,916.15 L590.21,915.7 L588.06,915.28 L585.91,914.89 L583.77,914.54 L581.63,914.21 L579.49,913.92 L577.37,913.64 L575.26,913.4 L573.16,913.17 L571.09,912.96 L569.03,912.77 L566.99,912.6 L564.98,912.44 L563,912.28 L561.04,912.14 L559.11,912 L557.22,911.86 L555.36,911.73 L553.53,911.59 L551.73,911.45 L549.98,911.3 L548.26,911.14 L546.58,910.97 L544.94,910.78 L543.34,910.58 L541.78,910.36 L540.26,910.12 L538.79,909.85 L537.35,909.56 L535.96,909.24 L534.6,908.89 L533.29,908.51 L532.02,908.09 L530.79,907.64 L529.59,907.15 L528.44,906.62 L527.32,906.05 L526.24,905.44 L525.2,904.79 L524.19,904.09 L523.21,903.34 L522.27,902.55 L521.35,901.71 L520.47,900.83 L519.61,899.89 L518.77,898.91 L517.96,897.88 L517.17,896.8 L516.4,895.67 L515.65,894.49 L514.92,893.26 L514.2,891.99 L513.49,890.66 L512.79,889.3 L512.09,887.88 L511.41,886.42 L510.73,884.92 L510.04,883.37 L509.36,881.79 L508.68,880.17 L507.99,878.5 L507.29,876.81 L506.59,875.08 L505.87,873.32 L505.14,871.53 L504.4,869.71 L503.64,867.87 L502.87,866.01 L502.07,864.13 L501.26,862.23 L500.42,860.32 L499.56,858.39 L498.67,856.46 L497.75,854.53 L496.81,852.59 L495.84,850.66 L494.84,848.73 L493.81,846.8 L492.75,844.89 L491.65,842.99 L490.53,841.11 L489.37,839.25 L488.18,837.41 L486.95,835.6 L485.69,833.82 L484.4,832.07 L483.08,830.36 L481.72,828.69 L480.33,827.06 L478.9,825.48 L477.45,823.94 L475.96,822.46 L474.45,821.03 L472.9,819.65 L471.32,818.34 L469.72,817.08 L468.1,815.89 L466.44,814.77 L464.76,813.71 L463.07,812.72 L461.34,811.81 L459.6,810.97 L457.85,810.2 L456.07,809.51 L454.28,808.9 L452.48,808.37 L450.67,807.91 L448.85,807.54 L447.02,807.25 L445.18,807.05 L443.34,806.92 L441.5,806.88 L439.66,806.92 L437.82,807.05 L435.98,807.25 L434.15,807.54 L432.33,807.91 L430.52,808.37 L428.72,808.9 L426.93,809.51 L425.15,810.2 L423.4,810.97 L421.66,811.81 L419.93,812.72 L418.24,813.71 L416.56,814.77 L414.9,815.89 L413.28,817.08 L411.68,818.34 L410.1,819.65 L408.55,821.03 L407.04,822.46 L405.55,823.94 L404.1,825.48 L402.67,827.06 L401.28,828.69 L399.92,830.36 L398.6,832.07 L397.31,833.82 L396.05,835.6 L394.82,837.41 L393.63,839.25 L392.47,841.11 L391.35,842.99 L390.25,844.89 L389.19,846.8 L388.16,848.73 L387.16,850.66 L386.19,852.59 L385.25,854.53 L384.33,856.46 L383.44,858.39 L382.58,860.32 L381.74,862.23 L380.93,864.13 L380.13,866.01 L379.36,867.87 L378.6,869.71 L377.86,871.53 L377.13,873.32 L376.41,875.08 L375.71,876.81 L375.01,878.5 L374.32,880.17 L373.64,881.79 L372.96,883.37 L372.27,884.92 L371.59,886.42 L370.91,887.88 L370.21,889.3 L369.51,890.66 L368.8,891.99 L368.08,893.26 L367.35,894.49 L366.6,895.67 L365.83,896.8 L365.04,897.88 L364.23,898.91 L363.39,899.89 L362.53,900.83 L361.65,901.71 L360.73,902.55 L359.79,903.34 L358.81,904.09 L357.8,904.79 L356.76,905.44 L355.68,906.05 L354.56,906.62 L353.41,907.15 L352.21,907.64 L350.98,908.09 L349.71,908.51 L348.4,908.89 L347.04,909.24 L345.65,909.56 L344.21,909.85 L342.74,910.12 L341.22,910.36 L339.66,910.58 L338.06,910.78 L336.42,910.97 L334.74,911.14 L333.02,911.3 L331.27,911.45 L329.47,911.59 L327.64,911.73 L325.78,911.86 L323.89,912 L321.96,912.14 L320,912.28 L318.02,912.44 L316.01,912.6 L313.97,912.77 L311.91,912.96 L309.84,913.17 L307.74,913.4 L305.63,913.64 L303.51,913.92 L301.37,914.21 L299.23,914.54 L297.09,914.89 L294.94,915.28 L292.79,915.7 L290.65,916.15 L288.51,916.64 L286.39,917.17 L284.27,917.73 L282.17,918.34 L280.09,918.99 L278.03,919.68 L275.99,920.41 L273.98,921.18 L272,922 L270.05,922.87 L268.14,923.78 L266.27,924.73 L264.44,925.73 L262.66,926.78 L260.92,927.87 L259.23,929 L257.6,930.18 L256.02,931.41 L254.49,932.68 L253.03,933.99 L251.63,935.34 L250.29,936.74 L249.02,938.17 L247.81,939.65 L246.68,941.16 L245.61,942.71 L244.62,944.29 L243.71,945.91 L242.87,947.56 L242.1,949.24 L241.42,950.95 L240.81,952.69 L240.28,954.46 L239.83,956.24 L239.46,958.05 L239.17,959.88 L238.96,961.73 L238.83,963.59 L238.78,965.47 L238.81,967.36 L238.91,969.26 L239.1,971.17 L239.36,973.09 L239.7,975.01 L240.11,976.93 L240.6,978.85 L241.16,980.77 L241.79,982.69 L242.49,984.6 L243.25,986.5 L244.08,988.4 L244.97,990.28 L245.93,992.15 L246.94,994.01 L248.01,995.85 L249.12,997.68 L250.29,999.49 L251.51,1001.28 L252.77,1003.05 L254.08,1004.79 L255.42,1006.52 L256.8,1008.22 L258.21,1009.9 L259.65,1011.55 L261.12,1013.18 L262.61,1014.78 L264.12,1016.35 L265.65,1017.9 L267.19,1019.42 L268.74,1020.92 L270.3,1022.38 L271.86,1023.82 L273.42,1025.24 L274.98,1026.63 L276.53,1027.99 L278.08,1029.33 L279.61,1030.64 L281.13,1031.93 L282.62,1033.2 L284.1,1034.44 L285.56,1035.67 L286.98,1036.87 L288.38,1038.06 L289.75,1039.23 L291.08,1040.38 L292.38,1041.52 L293.64,1042.64 L294.85,1043.76 L296.03,1044.86 L297.16,1045.96 L298.25,1047.05 L299.29,1048.13 L300.28,1049.21 L301.21,1050.29 L302.1,1051.37 L302.94,1052.45 L303.73,1053.53 L304.46,1054.62 L305.13,1055.72 L305.76,1056.82 L306.32,1057.94 L306.84,1059.07 L307.3,1060.21 L307.71,1061.37 L308.06,1062.55 L308.36,1063.74 L308.61,1064.96 L308.8,1066.2 L308.95,1067.46 L309.05,1068.74 L309.09,1070.06 L309.1,1071.39 L309.06,1072.76 L308.97,1074.16 L308.84,1075.58 L308.68,1077.04 L308.47,1078.52 L308.24,1080.04 L307.96,1081.59 L307.66,1083.18 L307.33,1084.79 L306.97,1086.44 L306.59,1088.13 L306.19,1089.84 L305.78,1091.59 L305.34,1093.37 L304.89,1095.19 L304.44,1097.03 L303.98,1098.91 L303.51,1100.81 L303.04,1102.75 L302.57,1104.71 L302.11,1106.7 L301.65,1108.72 L301.21,1110.76 L300.78,1112.82 L300.36,1114.9 L299.96,1117.01 L299.59,1119.13 L299.23,1121.26 L298.91,1123.41 L298.61,1125.57 L298.35,1127.75 L298.12,1129.92 L297.92,1132.11 L297.76,1134.29 L297.65,1136.48 L297.58,1138.67 L297.55,1140.85 L297.57,1143.02 L297.63,1145.18 L297.75,1147.33 L297.92,1149.47 L298.14,1151.59 L298.41,1153.68 L298.74,1155.76 L299.13,1157.81 L299.57,1159.83 L300.07,1161.82 L300.63,1163.78 L301.25,1165.7 L301.92,1167.58 L302.66,1169.42 L303.45,1171.22 L304.31,1172.97 L305.22,1174.67 L306.19,1176.33 L307.22,1177.93 L308.31,1179.47 L309.45,1180.96 L310.66,1182.39 L311.91,1183.76 L313.22,1185.07 L314.59,1186.32 L316,1187.5 L317.47,1188.62 L318.98,1189.67 L320.54,1190.65 L322.15,1191.56 L323.8,1192.4 L325.49,1193.17 L327.22,1193.87 L328.99,1194.5 L330.8,1195.06 L332.64,1195.54 L334.51,1195.95 L336.42,1196.3 L338.35,1196.57 L340.3,1196.77 L342.28,1196.9 L344.28,1196.96 L346.3,1196.95 L348.33,1196.88 L350.38,1196.74 L352.43,1196.54 L354.5,1196.27 L356.58,1195.94 L358.66,1195.56 L360.74,1195.11 L362.82,1194.61 L364.9,1194.06 L366.98,1193.45 L369.05,1192.8 L371.12,1192.1 L373.17,1191.35 L375.22,1190.57 L377.25,1189.74 L379.27,1188.88 L381.27,1187.99 L383.25,1187.07 L385.22,1186.12 L387.16,1185.14 L389.08,1184.15 L390.98,1183.13 L392.86,1182.11 L394.71,1181.07 L396.54,1180.02 L398.34,1178.97 L400.12,1177.91 L401.87,1176.85 L403.59,1175.8 L405.29,1174.76 L406.95,1173.73 L408.59,1172.71 L410.21,1171.7 L411.8,1170.72 L413.36,1169.75 L414.89,1168.82 L416.4,1167.9 L417.88,1167.02 L419.34,1166.17 L420.78,1165.36 L422.19,1164.58 L423.58,1163.84 L424.95,1163.15 L426.3,1162.5 L427.64,1161.89 L428.95,1161.33 L430.25,1160.82 L431.54,1160.35 L432.81,1159.94 L434.07,1159.58 L435.33,1159.28 L436.57,1159.03 L437.81,1158.83 L439.04,1158.69 L440.27,1158.61 L441.5,1158.58 L442.73,1158.61 L443.96,1158.69 L445.19,1158.83 L446.43,1159.03 L447.67,1159.28 L448.93,1159.58 L450.19,1159.94 L451.46,1160.35 L452.75,1160.82 L454.05,1161.33 L455.36,1161.89 L456.7,1162.5 L458.05,1163.15 L459.42,1163.84 L460.81,1164.58 L462.22,1165.36 L463.66,1166.17 L465.12,1167.02 L466.6,1167.9 L468.11,1168.82 L469.64,1169.75 L471.2,1170.72 L472.79,1171.7 L474.41,1172.71 L476.05,1173.73 L477.71,1174.76 L479.41,1175.8 L481.13,1176.85 L482.88,1177.91 L484.66,1178.97 L486.46,1180.02 L488.29,1181.07 L490.14,1182.11 L492.02,1183.13 L493.92,1184.15 L495.84,1185.14 L497.78,1186.12 L499.75,1187.07 L501.73,1187.99 L503.73,1188.88 L505.75,1189.74 L507.78,1190.57 L509.83,1191.35 L511.88,1192.1 L513.95,1192.8 L516.02,1193.45 L518.1,1194.06 L520.18,1194.61 L522.26,1195.11 L524.34,1195.56 L526.42,1195.94 L528.5,1196.27 L530.57,1196.54 L532.62,1196.74 L534.67,1196.88 L536.7,1196.95 L538.72,1196.96 L540.72,1196.9 L542.7,1196.77 L544.65,1196.57 L546.58,1196.3 L548.49,1195.95 L550.36,1195.54 L552.2,1195.06 L554.01,1194.5 L555.78,1193.87 L557.51,1193.17 L559.2,1192.4 L560.85,1191.56 L562.46,1190.65 L564.02,1189.67 L565.53,1188.62 L567,1187.5 L568.41,1186.32 L569.78,1185.07 L571.09,1183.76 L572.34,1182.39 L573.55,1180.96 L574.69,1179.47 L575.78,1177.93 L576.81,1176.33 L577.78,1174.67 L578.69,1172.97 L579.55,1171.22 L580.34,1169.42 L581.08,1167.58 L581.75,1165.7 L582.37,1163.78 L582.93,1161.82 L583.43,1159.83 L583.87,1157.81 L584.26,1155.76 L584.59,1153.68 L584.86,1151.59 L585.08,1149.47 L585.25,1147.33 L585.37,1145.18 L585.43,1143.02 L585.45,1140.85 L585.42,1138.67 L585.35,1136.48 L585.24,1134.29 L585.08,1132.11 L584.88,1129.92 L584.65,1127.75 L584.39,1125.57 L584.09,1123.41 L583.77,1121.26 L583.41,1119.13 L583.04,1117.01 L582.64,1114.9 L582.22,1112.82 L581.79,1110.76 L581.35,1108.72 L580.89,1106.7 L580.43,1104.71 L579.96,1102.75 L579.49,1100.81 L579.02,1098.91 L578.56,1097.03 L578.11,1095.19 L577.66,1093.37 L577.22,1091.59 L576.81,1089.84 L576.41,1088.13 L576.03,1086.44 L575.67,1084.79 L575.34,1083.18 L575.04,1081.59 L574.76,1080.04 L574.53,1078.52 L574.32,1077.04 L574.16,1075.58 L574.03,1074.16 L573.94,1072.76 L573.9,1071.39 L573.91,1070.06 L573.95,1068.74 L574.05,1067.46 L574.2,1066.2 L574.39,1064.96 L574.64,1063.74 L574.94,1062.55 L575.29,1061.37 L575.7,1060.21 L576.16,1059.07 L576.68,1057.94 L577.24,1056.82 L577.87,1055.72 L578.54,1054.62 L579.27,1053.53 L580.06,1052.45 L580.9,1051.37 L581.79,1050.29 L582.72,1049.21 L583.71,1048.13 L584.75,1047.05 L585.84,1045.96 L586.97,1044.86 L588.15,1043.76 L589.36,1042.64 L590.62,1041.52 L591.92,1040.38 L593.25,1039.23 L594.62,1038.06 L596.02,1036.87 L597.44,1035.67 L598.9,1034.44 L600.38,1033.2 L601.87,1031.93 L603.39,1030.64 L604.92,1029.33 L606.47,1027.99 L608.02,1026.63 L609.58,1025.24 L611.14,1023.82 L612.7,1022.38 L614.26,1020.92 L615.81,1019.42 Z" fill="url(#rgc)"/>
<g clip-path="url(#clipc)"><path d="M617.35,1017.9 L618.88,1016.35 L620.39,1014.78 L621.88,1013.18 L623.35,1011.55 L624.79,1009.9 L626.2,1008.22 L627.58,1006.52 L628.92,1004.79 L630.23,1003.05 L631.49,1001.28 L632.71,999.49 L633.88,997.68 L634.99,995.85 L636.06,994.01 L637.07,992.15 L638.03,990.28 L638.92,988.4 L639.75,986.5 L640.51,984.6 L641.21,982.69 L641.84,980.77 L642.4,978.85 L642.89,976.93 L643.3,975.01 L643.64,973.09 L643.9,971.17 L644.09,969.26 L644.19,967.36 L644.22,965.47 L644.17,963.59 L644.04,961.73 L643.83,959.88 L643.54,958.05 L643.17,956.24 L642.72,954.46 L642.19,952.69 L641.58,950.95 L640.9,949.24 L640.13,947.56 L639.29,945.91 L638.38,944.29 L637.39,942.71 L636.32,941.16 L635.19,939.65 L633.98,938.17 L632.71,936.74 L631.37,935.34 L629.97,933.99 L628.51,932.68 L626.98,931.41 L625.4,930.18 L623.77,929 L622.08,927.87 L620.34,926.78 L618.56,925.73 L616.73,924.73 L614.86,923.78 L612.95,922.87 L611,922 L609.02,921.18 L607.01,920.41 L604.97,919.68 L602.91,918.99 L600.83,918.34 L598.73,917.73 L596.61,917.17 L594.49,916.64 L592.35,916.15 L590.21,915.7 L588.06,915.28 L585.91,914.89 L583.77,914.54 L581.63,914.21 L579.49,913.92 L577.37,913.64 L575.26,913.4 L573.16,913.17 L571.09,912.96 L569.03,912.77 L566.99,912.6 L564.98,912.44 L563,912.28 L561.04,912.14 L559.11,912 L557.22,911.86 L555.36,911.73 L553.53,911.59 L551.73,911.45 L549.98,911.3 L548.26,911.14 L546.58,910.97 L544.94,910.78 L543.34,910.58 L541.78,910.36 L540.26,910.12 L538.79,909.85 L537.35,909.56 L535.96,909.24 L534.6,908.89 L533.29,908.51 L532.02,908.09 L530.79,907.64 L529.59,907.15 L528.44,906.62 L527.32,906.05 L526.24,905.44 L525.2,904.79 L524.19,904.09 L523.21,903.34 L522.27,902.55 L521.35,901.71 L520.47,900.83 L519.61,899.89 L518.77,898.91 L517.96,897.88 L517.17,896.8 L516.4,895.67 L515.65,894.49 L514.92,893.26 L514.2,891.99 L513.49,890.66 L512.79,889.3 L512.09,887.88 L511.41,886.42 L510.73,884.92 L510.04,883.37 L509.36,881.79 L508.68,880.17 L507.99,878.5 L507.29,876.81 L506.59,875.08 L505.87,873.32 L505.14,871.53 L504.4,869.71 L503.64,867.87 L502.87,866.01 L502.07,864.13 L501.26,862.23 L500.42,860.32 L499.56,858.39 L498.67,856.46 L497.75,854.53 L496.81,852.59 L495.84,850.66 L494.84,848.73 L493.81,846.8 L492.75,844.89 L491.65,842.99 L490.53,841.11 L489.37,839.25 L488.18,837.41 L486.95,835.6 L485.69,833.82 L484.4,832.07 L483.08,830.36 L481.72,828.69 L480.33,827.06 L478.9,825.48 L477.45,823.94 L475.96,822.46 L474.45,821.03 L472.9,819.65 L471.32,818.34 L469.72,817.08 L468.1,815.89 L466.44,814.77 L464.76,813.71 L463.07,812.72 L461.34,811.81 L459.6,810.97 L457.85,810.2 L456.07,809.51 L454.28,808.9 L452.48,808.37 L450.67,807.91 L448.85,807.54 L447.02,807.25 L445.18,807.05 L443.34,806.92 L441.5,806.88 L439.66,806.92 L437.82,807.05 L435.98,807.25 L434.15,807.54 L432.33,807.91 L430.52,808.37 L428.72,808.9 L426.93,809.51 L425.15,810.2 L423.4,810.97 L421.66,811.81 L419.93,812.72 L418.24,813.71 L416.56,814.77 L414.9,815.89 L413.28,817.08 L411.68,818.34 L410.1,819.65 L408.55,821.03 L407.04,822.46 L405.55,823.94 L404.1,825.48 L402.67,827.06 L401.28,828.69 L399.92,830.36 L398.6,832.07 L397.31,833.82 L396.05,835.6 L394.82,837.41 L393.63,839.25 L392.47,841.11 L391.35,842.99 L390.25,844.89 L389.19,846.8 L388.16,848.73 L387.16,850.66 L386.19,852.59 L385.25,854.53 L384.33,856.46 L383.44,858.39 L382.58,860.32 L381.74,862.23 L380.93,864.13 L380.13,866.01 L379.36,867.87 L378.6,869.71 L377.86,871.53 L377.13,873.32 L376.41,875.08 L375.71,876.81 L375.01,878.5 L374.32,880.17 L373.64,881.79 L372.96,883.37 L372.27,884.92 L371.59,886.42 L370.91,887.88 L370.21,889.3 L369.51,890.66 L368.8,891.99 L368.08,893.26 L367.35,894.49 L366.6,895.67 L365.83,896.8 L365.04,897.88 L364.23,898.91 L363.39,899.89 L362.53,900.83 L361.65,901.71 L360.73,902.55 L359.79,903.34 L358.81,904.09 L357.8,904.79 L356.76,905.44 L355.68,906.05 L354.56,906.62 L353.41,907.15 L352.21,907.64 L350.98,908.09 L349.71,908.51 L348.4,908.89 L347.04,909.24 L345.65,909.56 L344.21,909.85 L342.74,910.12 L341.22,910.36 L339.66,910.58 L338.06,910.78 L336.42,910.97 L334.74,911.14 L333.02,911.3 L331.27,911.45 L329.47,911.59 L327.64,911.73 L325.78,911.86 L323.89,912 L321.96,912.14 L320,912.28 L318.02,912.44 L316.01,912.6 L313.97,912.77 L311.91,912.96 L309.84,913.17 L307.74,913.4 L305.63,913.64 L303.51,913.92 L301.37,914.21 L299.23,914.54 L297.09,914.89 L294.94,915.28 L292.79,915.7 L290.65,916.15 L288.51,916.64 L286.39,917.17 L284.27,917.73 L282.17,918.34 L280.09,918.99 L278.03,919.68 L275.99,920.41 L273.98,921.18 L272,922 L270.05,922.87 L268.14,923.78 L266.27,924.73 L264.44,925.73 L262.66,926.78 L260.92,927.87 L259.23,929 L257.6,930.18 L256.02,931.41 L254.49,932.68 L253.03,933.99 L251.63,935.34 L250.29,936.74 L249.02,938.17 L247.81,939.65 L246.68,941.16 L245.61,942.71 L244.62,944.29 L243.71,945.91 L242.87,947.56 L242.1,949.24 L241.42,950.95 L240.81,952.69 L240.28,954.46 L239.83,956.24 L239.46,958.05 L239.17,959.88 L238.96,961.73 L238.83,963.59 L238.78,965.47 L238.81,967.36 L238.91,969.26 L239.1,971.17 L239.36,973.09 L239.7,975.01 L240.11,976.93 L240.6,978.85 L241.16,980.77 L241.79,982.69 L242.49,984.6 L243.25,986.5 L244.08,988.4 L244.97,990.28 L245.93,992.15 L246.94,994.01 L248.01,995.85 L249.12,997.68 L250.29,999.49 L251.51,1001.28 L252.77,1003.05 L254.08,1004.79 L255.42,1006.52 L256.8,1008.22 L258.21,1009.9 L259.65,1011.55 L261.12,1013.18 L262.61,1014.78 L264.12,1016.35 L265.65,1017.9 L267.19,1019.42 L268.74,1020.92 L270.3,1022.38 L271.86,1023.82 L273.42,1025.24 L274.98,1026.63 L276.53,1027.99 L278.08,1029.33 L279.61,1030.64 L281.13,1031.93 L282.62,1033.2 L284.1,1034.44 L285.56,1035.67 L286.98,1036.87 L288.38,1038.06 L289.75,1039.23 L291.08,1040.38 L292.38,1041.52 L293.64,1042.64 L294.85,1043.76 L296.03,1044.86 L297.16,1045.96 L298.25,1047.05 L299.29,1048.13 L300.28,1049.21 L301.21,1050.29 L302.1,1051.37 L302.94,1052.45 L303.73,1053.53 L304.46,1054.62 L305.13,1055.72 L305.76,1056.82 L306.32,1057.94 L306.84,1059.07 L307.3,1060.21 L307.71,1061.37 L308.06,1062.55 L308.36,1063.74 L308.61,1064.96 L308.8,1066.2 L308.95,1067.46 L309.05,1068.74 L309.09,1070.06 L309.1,1071.39 L309.06,1072.76 L308.97,1074.16 L308.84,1075.58 L308.68,1077.04 L308.47,1078.52 L308.24,1080.04 L307.96,1081.59 L307.66,1083.18 L307.33,1084.79 L306.97,1086.44 L306.59,1088.13 L306.19,1089.84 L305.78,1091.59 L305.34,1093.37 L304.89,1095.19 L304.44,1097.03 L303.98,1098.91 L303.51,1100.81 L303.04,1102.75 L302.57,1104.71 L302.11,1106.7 L301.65,1108.72 L301.21,1110.76 L300.78,1112.82 L300.36,1114.9 L299.96,1117.01 L299.59,1119.13 L299.23,1121.26 L298.91,1123.41 L298.61,1125.57 L298.35,1127.75 L298.12,1129.92 L297.92,1132.11 L297.76,1134.29 L297.65,1136.48 L297.58,1138.67 L297.55,1140.85 L297.57,1143.02 L297.63,1145.18 L297.75,1147.33 L297.92,1149.47 L298.14,1151.59 L298.41,1153.68 L298.74,1155.76 L299.13,1157.81 L299.57,1159.83 L300.07,1161.82 L300.63,1163.78 L301.25,1165.7 L301.92,1167.58 L302.66,1169.42 L303.45,1171.22 L304.31,1172.97 L305.22,1174.67 L306.19,1176.33 L307.22,1177.93 L308.31,1179.47 L309.45,1180.96 L310.66,1182.39 L311.91,1183.76 L313.22,1185.07 L314.59,1186.32 L316,1187.5 L317.47,1188.62 L318.98,1189.67 L320.54,1190.65 L322.15,1191.56 L323.8,1192.4 L325.49,1193.17 L327.22,1193.87 L328.99,1194.5 L330.8,1195.06 L332.64,1195.54 L334.51,1195.95 L336.42,1196.3 L338.35,1196.57 L340.3,1196.77 L342.28,1196.9 L344.28,1196.96 L346.3,1196.95 L348.33,1196.88 L350.38,1196.74 L352.43,1196.54 L354.5,1196.27 L356.58,1195.94 L358.66,1195.56 L360.74,1195.11 L362.82,1194.61 L364.9,1194.06 L366.98,1193.45 L369.05,1192.8 L371.12,1192.1 L373.17,1191.35 L375.22,1190.57 L377.25,1189.74 L379.27,1188.88 L381.27,1187.99 L383.25,1187.07 L385.22,1186.12 L387.16,1185.14 L389.08,1184.15 L390.98,1183.13 L392.86,1182.11 L394.71,1181.07 L396.54,1180.02 L398.34,1178.97 L400.12,1177.91 L401.87,1176.85 L403.59,1175.8 L405.29,1174.76 L406.95,1173.73 L408.59,1172.71 L410.21,1171.7 L411.8,1170.72 L413.36,1169.75 L414.89,1168.82 L416.4,1167.9 L417.88,1167.02 L419.34,1166.17 L420.78,1165.36 L422.19,1164.58 L423.58,1163.84 L424.95,1163.15 L426.3,1162.5 L427.64,1161.89 L428.95,1161.33 L430.25,1160.82 L431.54,1160.35 L432.81,1159.94 L434.07,1159.58 L435.33,1159.28 L436.57,1159.03 L437.81,1158.83 L439.04,1158.69 L440.27,1158.61 L441.5,1158.58 L442.73,1158.61 L443.96,1158.69 L445.19,1158.83 L446.43,1159.03 L447.67,1159.28 L448.93,1159.58 L450.19,1159.94 L451.46,1160.35 L452.75,1160.82 L454.05,1161.33 L455.36,1161.89 L456.7,1162.5 L458.05,1163.15 L459.42,1163.84 L460.81,1164.58 L462.22,1165.36 L463.66,1166.17 L465.12,1167.02 L466.6,1167.9 L468.11,1168.82 L469.64,1169.75 L471.2,1170.72 L472.79,1171.7 L474.41,1172.71 L476.05,1173.73 L477.71,1174.76 L479.41,1175.8 L481.13,1176.85 L482.88,1177.91 L484.66,1178.97 L486.46,1180.02 L488.29,1181.07 L490.14,1182.11 L492.02,1183.13 L493.92,1184.15 L495.84,1185.14 L497.78,1186.12 L499.75,1187.07 L501.73,1187.99 L503.73,1188.88 L505.75,1189.74 L507.78,1190.57 L509.83,1191.35 L511.88,1192.1 L513.95,1192.8 L516.02,1193.45 L518.1,1194.06 L520.18,1194.61 L522.26,1195.11 L524.34,1195.56 L526.42,1195.94 L528.5,1196.27 L530.57,1196.54 L532.62,1196.74 L534.67,1196.88 L536.7,1196.95 L538.72,1196.96 L540.72,1196.9 L542.7,1196.77 L544.65,1196.57 L546.58,1196.3 L548.49,1195.95 L550.36,1195.54 L552.2,1195.06 L554.01,1194.5 L555.78,1193.87 L557.51,1193.17 L559.2,1192.4 L560.85,1191.56 L562.46,1190.65 L564.02,1189.67 L565.53,1188.62 L567,1187.5 L568.41,1186.32 L569.78,1185.07 L571.09,1183.76 L572.34,1182.39 L573.55,1180.96 L574.69,1179.47 L575.78,1177.93 L576.81,1176.33 L577.78,1174.67 L578.69,1172.97 L579.55,1171.22 L580.34,1169.42 L581.08,1167.58 L581.75,1165.7 L582.37,1163.78 L582.93,1161.82 L583.43,1159.83 L583.87,1157.81 L584.26,1155.76 L584.59,1153.68 L584.86,1151.59 L585.08,1149.47 L585.25,1147.33 L585.37,1145.18 L585.43,1143.02 L585.45,1140.85 L585.42,1138.67 L585.35,1136.48 L585.24,1134.29 L585.08,1132.11 L584.88,1129.92 L584.65,1127.75 L584.39,1125.57 L584.09,1123.41 L583.77,1121.26 L583.41,1119.13 L583.04,1117.01 L582.64,1114.9 L582.22,1112.82 L581.79,1110.76 L581.35,1108.72 L580.89,1106.7 L580.43,1104.71 L579.96,1102.75 L579.49,1100.81 L579.02,1098.91 L578.56,1097.03 L578.11,1095.19 L577.66,1093.37 L577.22,1091.59 L576.81,1089.84 L576.41,1088.13 L576.03,1086.44 L575.67,1084.79 L575.34,1083.18 L575.04,1081.59 L574.76,1080.04 L574.53,1078.52 L574.32,1077.04 L574.16,1075.58 L574.03,1074.16 L573.94,1072.76 L573.9,1071.39 L573.91,1070.06 L573.95,1068.74 L574.05,1067.46 L574.2,1066.2 L574.39,1064.96 L574.64,1063.74 L574.94,1062.55 L575.29,1061.37 L575.7,1060.21 L576.16,1059.07 L576.68,1057.94 L577.24,1056.82 L577.87,1055.72 L578.54,1054.62 L579.27,1053.53 L580.06,1052.45 L580.9,1051.37 L581.79,1050.29 L582.72,1049.21 L583.71,1048.13 L584.75,1047.05 L585.84,1045.96 L586.97,1044.86 L588.15,1043.76 L589.36,1042.64 L590.62,1041.52 L591.92,1040.38 L593.25,1039.23 L594.62,1038.06 L596.02,1036.87 L597.44,1035.67 L598.9,1034.44 L600.38,1033.2 L601.87,1031.93 L603.39,1030.64 L604.92,1029.33 L606.47,1027.99 L608.02,1026.63 L609.58,1025.24 L611.14,1023.82 L612.7,1022.38 L614.26,1020.92 L615.81,1019.42 Z" fill="none" stroke="#0000f2" stroke-width="14" filter="url(#blc)"/></g>
<g stroke="#000" stroke-opacity="0.145" stroke-width="2.2">
<line x1="221.69" y1="773.8" x2="221.69" y2="1266.2"/>
<line x1="195.6" y1="1237.71" x2="688.7" y2="1237.71"/>
<line x1="265.65" y1="773.8" x2="265.65" y2="1266.2"/>
<line x1="195.6" y1="1193.75" x2="688.7" y2="1193.75"/>
<line x1="309.61" y1="773.8" x2="309.61" y2="1266.2"/>
<line x1="195.6" y1="1149.79" x2="688.7" y2="1149.79"/>
<line x1="353.57" y1="773.8" x2="353.57" y2="1266.2"/>
<line x1="195.6" y1="1105.83" x2="688.7" y2="1105.83"/>
<line x1="397.54" y1="773.8" x2="397.54" y2="1266.2"/>
<line x1="195.6" y1="1061.86" x2="688.7" y2="1061.86"/>
<line x1="441.5" y1="773.8" x2="441.5" y2="1266.2"/>
<line x1="195.6" y1="1017.9" x2="688.7" y2="1017.9"/>
<line x1="485.46" y1="773.8" x2="485.46" y2="1266.2"/>
<line x1="195.6" y1="973.94" x2="688.7" y2="973.94"/>
<line x1="529.42" y1="773.8" x2="529.42" y2="1266.2"/>
<line x1="195.6" y1="929.98" x2="688.7" y2="929.98"/>
<line x1="573.39" y1="773.8" x2="573.39" y2="1266.2"/>
<line x1="195.6" y1="886.01" x2="688.7" y2="886.01"/>
<line x1="617.35" y1="773.8" x2="617.35" y2="1266.2"/>
<line x1="195.6" y1="842.05" x2="688.7" y2="842.05"/>
<line x1="661.31" y1="773.8" x2="661.31" y2="1266.2"/>
<line x1="195.6" y1="798.09" x2="688.7" y2="798.09"/>
</g>
<rect x="195.6" y="773.8" width="493.1" height="492.4" fill="none" stroke="#000" stroke-width="1.45"/>
<line x1="266.15" y1="1266.2" x2="266.15" y2="1273.2" stroke="#000" stroke-width="1.45"/>
<text x="266.15" y="1305" text-anchor="middle" font-size="32">−0.5</text>
<line x1="442" y1="1266.2" x2="442" y2="1273.2" stroke="#000" stroke-width="1.45"/>
<text x="442" y="1305" text-anchor="middle" font-size="32">0.0</text>
<line x1="617.85" y1="1266.2" x2="617.85" y2="1273.2" stroke="#000" stroke-width="1.45"/>
<text x="617.85" y="1305" text-anchor="middle" font-size="32">0.5</text>
<line x1="188.6" y1="1230.52" x2="195.6" y2="1230.52" stroke="#000" stroke-width="1.45"/>
<text x="181.6" y="1242.62" text-anchor="end" font-size="32">−0.6</text>
<line x1="188.6" y1="1160.18" x2="195.6" y2="1160.18" stroke="#000" stroke-width="1.45"/>
<text x="181.6" y="1172.28" text-anchor="end" font-size="32">−0.4</text>
<line x1="188.6" y1="1089.84" x2="195.6" y2="1089.84" stroke="#000" stroke-width="1.45"/>
<text x="181.6" y="1101.94" text-anchor="end" font-size="32">−0.2</text>
<line x1="188.6" y1="1019.5" x2="195.6" y2="1019.5" stroke="#000" stroke-width="1.45"/>
<text x="181.6" y="1031.6" text-anchor="end" font-size="32">0.0</text>
<line x1="188.6" y1="949.16" x2="195.6" y2="949.16" stroke="#000" stroke-width="1.45"/>
<text x="181.6" y="961.26" text-anchor="end" font-size="32">0.2</text>
<line x1="188.6" y1="878.82" x2="195.6" y2="878.82" stroke="#000" stroke-width="1.45"/>
<text x="181.6" y="890.92" text-anchor="end" font-size="32">0.4</text>
<line x1="188.6" y1="808.48" x2="195.6" y2="808.48" stroke="#000" stroke-width="1.45"/>
<text x="181.6" y="820.58" text-anchor="end" font-size="32">0.6</text>
<rect x="722.3" y="773.8" width="24.2" height="492.4" fill="url(#cbc)" stroke="#000" stroke-width="1.45"/>
<line x1="746.5" y1="821.76" x2="753.5" y2="821.76" stroke="#000" stroke-width="1.45"/>
<text x="758.8" y="833.86" text-anchor="start" font-size="32">0.06</text>
<line x1="746.5" y1="889.3" x2="753.5" y2="889.3" stroke="#000" stroke-width="1.45"/>
<text x="758.8" y="901.4" text-anchor="start" font-size="32">0.05</text>
<line x1="746.5" y1="956.85" x2="753.5" y2="956.85" stroke="#000" stroke-width="1.45"/>
<text x="758.8" y="968.95" text-anchor="start" font-size="32">0.04</text>
<line x1="746.5" y1="1024.39" x2="753.5" y2="1024.39" stroke="#000" stroke-width="1.45"/>
<text x="758.8" y="1036.49" text-anchor="start" font-size="32">0.03</text>
<line x1="746.5" y1="1091.93" x2="753.5" y2="1091.93" stroke="#000" stroke-width="1.45"/>
<text x="758.8" y="1104.03" text-anchor="start" font-size="32">0.02</text>
<line x1="746.5" y1="1159.48" x2="753.5" y2="1159.48" stroke="#000" stroke-width="1.45"/>
<text x="758.8" y="1171.58" text-anchor="start" font-size="32">0.01</text>
<line x1="746.5" y1="1227.02" x2="753.5" y2="1227.02" stroke="#000" stroke-width="1.45"/>
<text x="758.8" y="1239.12" text-anchor="start" font-size="32">0.00</text>
<text x="324.5" y="761.7" font-size="32" font-style="italic">λ</text>
<text x="348.4" y="761.7" font-size="32">=</text>
<text x="391.9" y="761.7" font-size="32">+7.87E-02</text>
<path d="M1450.25,1018.2 L1451.78,1016.65 L1453.29,1015.08 L1454.78,1013.48 L1456.25,1011.85 L1457.69,1010.2 L1459.1,1008.52 L1460.48,1006.82 L1461.82,1005.09 L1463.13,1003.35 L1464.39,1001.58 L1465.61,999.79 L1466.78,997.98 L1467.89,996.15 L1468.96,994.31 L1469.97,992.45 L1470.93,990.58 L1471.82,988.7 L1472.65,986.8 L1473.41,984.9 L1474.11,982.99 L1474.74,981.07 L1475.3,979.15 L1475.79,977.23 L1476.2,975.31 L1476.54,973.39 L1476.8,971.47 L1476.99,969.56 L1477.09,967.66 L1477.12,965.77 L1477.07,963.89 L1476.94,962.03 L1476.73,960.18 L1476.44,958.35 L1476.07,956.54 L1475.62,954.76 L1475.09,952.99 L1474.48,951.25 L1473.8,949.54 L1473.03,947.86 L1472.19,946.21 L1471.28,944.59 L1470.29,943.01 L1469.22,941.46 L1468.09,939.95 L1466.88,938.47 L1465.61,937.04 L1464.27,935.64 L1462.87,934.29 L1461.41,932.98 L1459.88,931.71 L1458.3,930.48 L1456.67,929.3 L1454.98,928.17 L1453.24,927.08 L1451.46,926.03 L1449.63,925.03 L1447.76,924.08 L1445.85,923.17 L1443.9,922.3 L1441.92,921.48 L1439.91,920.71 L1437.87,919.98 L1435.81,919.29 L1433.73,918.64 L1431.63,918.03 L1429.51,917.47 L1427.39,916.94 L1425.25,916.45 L1423.11,916 L1420.96,915.58 L1418.81,915.19 L1416.67,914.84 L1414.53,914.51 L1412.39,914.22 L1410.27,913.94 L1408.16,913.7 L1406.06,913.47 L1403.99,913.26 L1401.93,913.07 L1399.89,912.9 L1397.88,912.74 L1395.9,912.58 L1393.94,912.44 L1392.01,912.3 L1390.12,912.16 L1388.26,912.03 L1386.43,911.89 L1384.63,911.75 L1382.88,911.6 L1381.16,911.44 L1379.48,911.27 L1377.84,911.08 L1376.24,910.88 L1374.68,910.66 L1373.16,910.42 L1371.69,910.15 L1370.25,909.86 L1368.86,909.54 L1367.5,909.19 L1366.19,908.81 L1364.92,908.39 L1363.69,907.94 L1362.49,907.45 L1361.34,906.92 L1360.22,906.35 L1359.14,905.74 L1358.1,905.09 L1357.09,904.39 L1356.11,903.64 L1355.17,902.85 L1354.25,902.01 L1353.37,901.13 L1352.51,900.19 L1351.67,899.21 L1350.86,898.18 L1350.07,897.1 L1349.3,895.97 L1348.55,894.79 L1347.82,893.56 L1347.1,892.29 L1346.39,890.96 L1345.69,889.6 L1344.99,888.18 L1344.31,886.72 L1343.63,885.22 L1342.94,883.67 L1342.26,882.09 L1341.58,880.47 L1340.89,878.8 L1340.19,877.11 L1339.49,875.38 L1338.77,873.62 L1338.04,871.83 L1337.3,870.01 L1336.54,868.17 L1335.77,866.31 L1334.97,864.43 L1334.16,862.53 L1333.32,860.62 L1332.46,858.69 L1331.57,856.76 L1330.65,854.83 L1329.71,852.89 L1328.74,850.96 L1327.74,849.03 L1326.71,847.1 L1325.65,845.19 L1324.55,843.29 L1323.43,841.41 L1322.27,839.55 L1321.08,837.71 L1319.85,835.9 L1318.59,834.12 L1317.3,832.37 L1315.98,830.66 L1314.62,828.99 L1313.23,827.36 L1311.8,825.78 L1310.35,824.24 L1308.86,822.76 L1307.35,821.33 L1305.8,819.95 L1304.22,818.64 L1302.62,817.38 L1301,816.19 L1299.34,815.07 L1297.66,814.01 L1295.97,813.02 L1294.24,812.11 L1292.5,811.27 L1290.75,810.5 L1288.97,809.81 L1287.18,809.2 L1285.38,808.67 L1283.57,808.21 L1281.75,807.84 L1279.92,807.55 L1278.08,807.35 L1276.24,807.22 L1274.4,807.18 L1272.56,807.22 L1270.72,807.35 L1268.88,807.55 L1267.05,807.84 L1265.23,808.21 L1263.42,808.67 L1261.62,809.2 L1259.83,809.81 L1258.05,810.5 L1256.3,811.27 L1254.56,812.11 L1252.83,813.02 L1251.14,814.01 L1249.46,815.07 L1247.8,816.19 L1246.18,817.38 L1244.58,818.64 L1243,819.95 L1241.45,821.33 L1239.94,822.76 L1238.45,824.24 L1237,825.78 L1235.57,827.36 L1234.18,828.99 L1232.82,830.66 L1231.5,832.37 L1230.21,834.12 L1228.95,835.9 L1227.72,837.71 L1226.53,839.55 L1225.37,841.41 L1224.25,843.29 L1223.15,845.19 L1222.09,847.1 L1221.06,849.03 L1220.06,850.96 L1219.09,852.89 L1218.15,854.83 L1217.23,856.76 L1216.34,858.69 L1215.48,860.62 L1214.64,862.53 L1213.83,864.43 L1213.03,866.31 L1212.26,868.17 L1211.5,870.01 L1210.76,871.83 L1210.03,873.62 L1209.31,875.38 L1208.61,877.11 L1207.91,878.8 L1207.22,880.47 L1206.54,882.09 L1205.86,883.67 L1205.17,885.22 L1204.49,886.72 L1203.81,888.18 L1203.11,889.6 L1202.41,890.96 L1201.7,892.29 L1200.98,893.56 L1200.25,894.79 L1199.5,895.97 L1198.73,897.1 L1197.94,898.18 L1197.13,899.21 L1196.29,900.19 L1195.43,901.13 L1194.55,902.01 L1193.63,902.85 L1192.69,903.64 L1191.71,904.39 L1190.7,905.09 L1189.66,905.74 L1188.58,906.35 L1187.46,906.92 L1186.31,907.45 L1185.11,907.94 L1183.88,908.39 L1182.61,908.81 L1181.3,909.19 L1179.94,909.54 L1178.55,909.86 L1177.11,910.15 L1175.64,910.42 L1174.12,910.66 L1172.56,910.88 L1170.96,911.08 L1169.32,911.27 L1167.64,911.44 L1165.92,911.6 L1164.17,911.75 L1162.37,911.89 L1160.54,912.03 L1158.68,912.16 L1156.79,912.3 L1154.86,912.44 L1152.9,912.58 L1150.92,912.74 L1148.91,912.9 L1146.87,913.07 L1144.81,913.26 L1142.74,913.47 L1140.64,913.7 L1138.53,913.94 L1136.41,914.22 L1134.27,914.51 L1132.13,914.84 L1129.99,915.19 L1127.84,915.58 L1125.69,916 L1123.55,916.45 L1121.41,916.94 L1119.29,917.47 L1117.17,918.03 L1115.07,918.64 L1112.99,919.29 L1110.93,919.98 L1108.89,920.71 L1106.88,921.48 L1104.9,922.3 L1102.95,923.17 L1101.04,924.08 L1099.17,925.03 L1097.34,926.03 L1095.56,927.08 L1093.82,928.17 L1092.13,929.3 L1090.5,930.48 L1088.92,931.71 L1087.39,932.98 L1085.93,934.29 L1084.53,935.64 L1083.19,937.04 L1081.92,938.47 L1080.71,939.95 L1079.58,941.46 L1078.51,943.01 L1077.52,944.59 L1076.61,946.21 L1075.77,947.86 L1075,949.54 L1074.32,951.25 L1073.71,952.99 L1073.18,954.76 L1072.73,956.54 L1072.36,958.35 L1072.07,960.18 L1071.86,962.03 L1071.73,963.89 L1071.68,965.77 L1071.71,967.66 L1071.81,969.56 L1072,971.47 L1072.26,973.39 L1072.6,975.31 L1073.01,977.23 L1073.5,979.15 L1074.06,981.07 L1074.69,982.99 L1075.39,984.9 L1076.15,986.8 L1076.98,988.7 L1077.87,990.58 L1078.83,992.45 L1079.84,994.31 L1080.91,996.15 L1082.02,997.98 L1083.19,999.79 L1084.41,1001.58 L1085.67,1003.35 L1086.98,1005.09 L1088.32,1006.82 L1089.7,1008.52 L1091.11,1010.2 L1092.55,1011.85 L1094.02,1013.48 L1095.51,1015.08 L1097.02,1016.65 L1098.55,1018.2 L1100.09,1019.72 L1101.64,1021.22 L1103.2,1022.68 L1104.76,1024.12 L1106.32,1025.54 L1107.88,1026.93 L1109.43,1028.29 L1110.98,1029.63 L1112.51,1030.94 L1114.03,1032.23 L1115.52,1033.5 L1117,1034.74 L1118.46,1035.97 L1119.88,1037.17 L1121.28,1038.36 L1122.65,1039.53 L1123.98,1040.68 L1125.28,1041.82 L1126.54,1042.94 L1127.75,1044.06 L1128.93,1045.16 L1130.06,1046.26 L1131.15,1047.35 L1132.19,1048.43 L1133.18,1049.51 L1134.11,1050.59 L1135,1051.67 L1135.84,1052.75 L1136.63,1053.83 L1137.36,1054.92 L1138.03,1056.02 L1138.66,1057.12 L1139.22,1058.24 L1139.74,1059.37 L1140.2,1060.51 L1140.61,1061.67 L1140.96,1062.85 L1141.26,1064.04 L1141.51,1065.26 L1141.7,1066.5 L1141.85,1067.76 L1141.95,1069.04 L1141.99,1070.36 L1142,1071.69 L1141.96,1073.06 L1141.87,1074.46 L1141.74,1075.88 L1141.58,1077.34 L1141.37,1078.82 L1141.14,1080.34 L1140.86,1081.89 L1140.56,1083.48 L1140.23,1085.09 L1139.87,1086.74 L1139.49,1088.43 L1139.09,1090.14 L1138.68,1091.89 L1138.24,1093.67 L1137.79,1095.49 L1137.34,1097.33 L1136.88,1099.21 L1136.41,1101.11 L1135.94,1103.05 L1135.47,1105.01 L1135.01,1107 L1134.55,1109.02 L1134.11,1111.06 L1133.68,1113.12 L1133.26,1115.2 L1132.86,1117.31 L1132.49,1119.43 L1132.13,1121.56 L1131.81,1123.71 L1131.51,1125.87 L1131.25,1128.05 L1131.02,1130.22 L1130.82,1132.41 L1130.66,1134.59 L1130.55,1136.78 L1130.48,1138.97 L1130.45,1141.15 L1130.47,1143.32 L1130.53,1145.48 L1130.65,1147.63 L1130.82,1149.77 L1131.04,1151.89 L1131.31,1153.98 L1131.64,1156.06 L1132.03,1158.11 L1132.47,1160.13 L1132.97,1162.12 L1133.53,1164.08 L1134.15,1166 L1134.82,1167.88 L1135.56,1169.72 L1136.35,1171.52 L1137.21,1173.27 L1138.12,1174.97 L1139.09,1176.63 L1140.12,1178.23 L1141.21,1179.77 L1142.35,1181.26 L1143.56,1182.69 L1144.81,1184.06 L1146.12,1185.37 L1147.49,1186.62 L1148.9,1187.8 L1150.37,1188.92 L1151.88,1189.97 L1153.44,1190.95 L1155.05,1191.86 L1156.7,1192.7 L1158.39,1193.47 L1160.12,1194.17 L1161.89,1194.8 L1163.7,1195.36 L1165.54,1195.84 L1167.41,1196.25 L1169.32,1196.6 L1171.25,1196.87 L1173.2,1197.07 L1175.18,1197.2 L1177.18,1197.26 L1179.2,1197.25 L1181.23,1197.18 L1183.28,1197.04 L1185.33,1196.84 L1187.4,1196.57 L1189.48,1196.24 L1191.56,1195.86 L1193.64,1195.41 L1195.72,1194.91 L1197.8,1194.36 L1199.88,1193.75 L1201.95,1193.1 L1204.02,1192.4 L1206.07,1191.65 L1208.12,1190.87 L1210.15,1190.04 L1212.17,1189.18 L1214.17,1188.29 L1216.15,1187.37 L1218.12,1186.42 L1220.06,1185.44 L1221.98,1184.45 L1223.88,1183.43 L1225.76,1182.41 L1227.61,1181.37 L1229.44,1180.32 L1231.24,1179.27 L1233.02,1178.21 L1234.77,1177.15 L1236.49,1176.1 L1238.19,1175.06 L1239.85,1174.03 L1241.49,1173.01 L1243.11,1172 L1244.7,1171.02 L1246.26,1170.05 L1247.79,1169.12 L1249.3,1168.2 L1250.78,1167.32 L1252.24,1166.47 L1253.68,1165.66 L1255.09,1164.88 L1256.48,1164.14 L1257.85,1163.45 L1259.2,1162.8 L1260.54,1162.19 L1261.85,1161.63 L1263.15,1161.12 L1264.44,1160.65 L1265.71,1160.24 L1266.97,1159.88 L1268.23,1159.58 L1269.47,1159.33 L1270.71,1159.13 L1271.94,1158.99 L1273.17,1158.91 L1274.4,1158.88 L1275.63,1158.91 L1276.86,1158.99 L1278.09,1159.13 L1279.33,1159.33 L1280.57,1159.58 L1281.83,1159.88 L1283.09,1160.24 L1284.36,1160.65 L1285.65,1161.12 L1286.95,1161.63 L1288.26,1162.19 L1289.6,1162.8 L1290.95,1163.45 L1292.32,1164.14 L1293.71,1164.88 L1295.12,1165.66 L1296.56,1166.47 L1298.02,1167.32 L1299.5,1168.2 L1301.01,1169.12 L1302.54,1170.05 L1304.1,1171.02 L1305.69,1172 L1307.31,1173.01 L1308.95,1174.03 L1310.61,1175.06 L1312.31,1176.1 L1314.03,1177.15 L1315.78,1178.21 L1317.56,1179.27 L1319.36,1180.32 L1321.19,1181.37 L1323.04,1182.41 L1324.92,1183.43 L1326.82,1184.45 L1328.74,1185.44 L1330.68,1186.42 L1332.65,1187.37 L1334.63,1188.29 L1336.63,1189.18 L1338.65,1190.04 L1340.68,1190.87 L1342.73,1191.65 L1344.78,1192.4 L1346.85,1193.1 L1348.92,1193.75 L1351,1194.36 L1353.08,1194.91 L1355.16,1195.41 L1357.24,1195.86 L1359.32,1196.24 L1361.4,1196.57 L1363.47,1196.84 L1365.52,1197.04 L1367.57,1197.18 L1369.6,1197.25 L1371.62,1197.26 L1373.62,1197.2 L1375.6,1197.07 L1377.55,1196.87 L1379.48,1196.6 L1381.39,1196.25 L1383.26,1195.84 L1385.1,1195.36 L1386.91,1194.8 L1388.68,1194.17 L1390.41,1193.47 L1392.1,1192.7 L1393.75,1191.86 L1395.36,1190.95 L1396.92,1189.97 L1398.43,1188.92 L1399.9,1187.8 L1401.31,1186.62 L1402.68,1185.37 L1403.99,1184.06 L1405.24,1182.69 L1406.45,1181.26 L1407.59,1179.77 L1408.68,1178.23 L1409.71,1176.63 L1410.68,1174.97 L1411.59,1173.27 L1412.45,1171.52 L1413.24,1169.72 L1413.98,1167.88 L1414.65,1166 L1415.27,1164.08 L1415.83,1162.12 L1416.33,1160.13 L1416.77,1158.11 L1417.16,1156.06 L1417.49,1153.98 L1417.76,1151.89 L1417.98,1149.77 L1418.15,1147.63 L1418.27,1145.48 L1418.33,1143.32 L1418.35,1141.15 L1418.32,1138.97 L1418.25,1136.78 L1418.14,1134.59 L1417.98,1132.41 L1417.78,1130.22 L1417.55,1128.05 L1417.29,1125.87 L1416.99,1123.71 L1416.67,1121.56 L1416.31,1119.43 L1415.94,1117.31 L1415.54,1115.2 L1415.12,1113.12 L1414.69,1111.06 L1414.25,1109.02 L1413.79,1107 L1413.33,1105.01 L1412.86,1103.05 L1412.39,1101.11 L1411.92,1099.21 L1411.46,1097.33 L1411.01,1095.49 L1410.56,1093.67 L1410.12,1091.89 L1409.71,1090.14 L1409.31,1088.43 L1408.93,1086.74 L1408.57,1085.09 L1408.24,1083.48 L1407.94,1081.89 L1407.66,1080.34 L1407.43,1078.82 L1407.22,1077.34 L1407.06,1075.88 L1406.93,1074.46 L1406.84,1073.06 L1406.8,1071.69 L1406.81,1070.36 L1406.85,1069.04 L1406.95,1067.76 L1407.1,1066.5 L1407.29,1065.26 L1407.54,1064.04 L1407.84,1062.85 L1408.19,1061.67 L1408.6,1060.51 L1409.06,1059.37 L1409.58,1058.24 L1410.14,1057.12 L1410.77,1056.02 L1411.44,1054.92 L1412.17,1053.83 L1412.96,1052.75 L1413.8,1051.67 L1414.69,1050.59 L1415.62,1049.51 L1416.61,1048.43 L1417.65,1047.35 L1418.74,1046.26 L1419.87,1045.16 L1421.05,1044.06 L1422.26,1042.94 L1423.52,1041.82 L1424.82,1040.68 L1426.15,1039.53 L1427.52,1038.36 L1428.92,1037.17 L1430.34,1035.97 L1431.8,1034.74 L1433.28,1033.5 L1434.77,1032.23 L1436.29,1030.94 L1437.82,1029.63 L1439.37,1028.29 L1440.92,1026.93 L1442.48,1025.54 L1444.04,1024.12 L1445.6,1022.68 L1447.16,1021.22 L1448.71,1019.72 Z" fill="#000080"/>
<g clip-path="url(#celld)"><g filter="url(#bbd)">
<rect x="1318.36" y="930.28" width="2.4" height="2.4" fill="#0000ad"/>
<rect x="1318.36" y="932.27" width="2.4" height="2.4" fill="#0000bf"/>
<rect x="1318.36" y="934.27" width="2.4" height="2.4" fill="#0000d6"/>
<rect x="1318.36" y="936.27" width="2.4" height="2.4" fill="#0000f1"/>
<rect x="1318.36" y="938.27" width="2.4" height="2.4" fill="#0000ff"/>
<rect x="1318.36" y="940.27" width="2.4" height="2.4" fill="#0014ff"/>
<rect x="1318.36" y="942.26" width="2.4" height="2.4" fill="#0030ff"/>
<rect x="1318.36" y="944.26" width="2.4" height="2.4" fill="#0048ff"/>
<rect x="1318.36" y="946.26" width="2.4" height="2.4" fill="#0058ff"/>
<rect x="1318.36" y="948.26" width="2.4" height="2.4" fill="#0068ff"/>
<rect x="1318.36" y="950.26" width="2.4" height="2.4" fill="#0070ff"/>
<rect x="1318.36" y="952.26" width="2.4" height="2.4" fill="#0070ff"/>
<rect x="1318.36" y="954.25" width="2.4" height="2.4" fill="#0068ff"/>
<rect x="1318.36" y="956.25" width="2.4" height="2.4" fill="#0058ff"/>
<rect x="1318.36" y="958.25" width="2.4" height="2.4" fill="#0048ff"/>
<rect x="1318.36" y="960.25" width="2.4" height="2.4" fill="#0030ff"/>
<rect x="1318.36" y="962.25" width="2.4" height="2.4" fill="#0014ff"/>
<rect x="1318.36" y="964.25" width="2.4" height="2.4" fill="#0000ff"/>
<rect x="1318.36" y="966.24" width="2.4" height="2.4" fill="#0000f1"/>
<rect x="1318.36" y="968.24" width="2.4" height="2.4" fill="#0000d6"/>
<rect x="1318.36" y="970.24" width="2.4" height="2.4" fill="#0000bf"/>
<rect x="1318.36" y="972.24" width="2.4" height="2.4" fill="#0000ad"/>
<rect x="1320.36" y="930.28" width="2.4" height="2.4" fill="#0000bf"/>
<rect x="1320.36" y="932.27" width="2.4" height="2.4" fill="#0000d6"/>
<rect x="1320.36" y="934.27" width="2.4" height="2.4" fill="#0000f6"/>
<rect x="1320.36" y="936.27" width="2.4" height="2.4" fill="#0008ff"/>
<rect x="1320.36" y="938.27" width="2.4" height="2.4" fill="#0028ff"/>
<rect x="1320.36" y="940.27" width="2.4" height="2.4" fill="#004cff"/>
<rect x="1320.36" y="942.26" width="2.4" height="2.4" fill="#0070ff"/>
<rect x="1320.36" y="944.26" width="2.4" height="2.4" fill="#008cff"/>
<rect x="1320.36" y="946.26" width="2.4" height="2.4" fill="#00a8ff"/>
<rect x="1320.36" y="948.26" width="2.4" height="2.4" fill="#00b8ff"/>
<rect x="1320.36" y="950.26" width="2.4" height="2.4" fill="#00c4ff"/>
<rect x="1320.36" y="952.26" width="2.4" height="2.4" fill="#00c4ff"/>
<rect x="1320.36" y="954.25" width="2.4" height="2.4" fill="#00b8ff"/>
<rect x="1320.36" y="956.25" width="2.4" height="2.4" fill="#00a8ff"/>
<rect x="1320.36" y="958.25" width="2.4" height="2.4" fill="#008cff"/>
<rect x="1320.36" y="960.25" width="2.4" height="2.4" fill="#0070ff"/>
<rect x="1320.36" y="962.25" width="2.4" height="2.4" fill="#004cff"/>
<rect x="1320.36" y="964.25" width="2.4" height="2.4" fill="#0028ff"/>
<rect x="1320.36" y="966.24" width="2.4" height="2.4" fill="#0008ff"/>
<rect x="1320.36" y="968.24" width="2.4" height="2.4" fill="#0000f6"/>
<rect x="1320.36" y="970.24" width="2.4" height="2.4" fill="#0000d6"/>
<rect x="1320.36" y="972.24" width="2.4" height="2.4" fill="#0000bf"/>
<rect x="1322.36" y="930.28" width="2.4" height="2.4" fill="#0000d6"/>
<rect x="1322.36" y="932.27" width="2.4" height="2.4" fill="#0000f6"/>
<rect x="1322.36" y="934.27" width="2.4" height="2.4" fill="#000cff"/>
<rect x="1322.36" y="936.27" width="2.4" height="2.4" fill="#0034ff"/>
<rect x="1322.36" y="938.27" width="2.4" height="2.4" fill="#0060ff"/>
<rect x="1322.36" y="940.27" width="2.4" height="2.4" fill="#008cff"/>
<rect x="1322.36" y="942.26" width="2.4" height="2.4" fill="#00b8ff"/>
<rect x="1322.36" y="944.26" width="2.4" height="2.4" fill="#00e0fb"/>
<rect x="1322.36" y="946.26" width="2.4" height="2.4" fill="#16ffe1"/>
<rect x="1322.36" y="948.26" width="2.4" height="2.4" fill="#29ffce"/>
<rect x="1322.36" y="950.26" width="2.4" height="2.4" fill="#33ffc4"/>
<rect x="1322.36" y="952.26" width="2.4" height="2.4" fill="#33ffc4"/>
<rect x="1322.36" y="954.25" width="2.4" height="2.4" fill="#29ffce"/>
<rect x="1322.36" y="956.25" width="2.4" height="2.4" fill="#16ffe1"/>
<rect x="1322.36" y="958.25" width="2.4" height="2.4" fill="#00e0fb"/>
<rect x="1322.36" y="960.25" width="2.4" height="2.4" fill="#00b8ff"/>
<rect x="1322.36" y="962.25" width="2.4" height="2.4" fill="#008cff"/>
<rect x="1322.36" y="964.25" width="2.4" height="2.4" fill="#0060ff"/>
<rect x="1322.36" y="966.24" width="2.4" height="2.4" fill="#0034ff"/>
<rect x="1322.36" y="968.24" width="2.4" height="2.4" fill="#000cff"/>
<rect x="1322.36" y="970.24" width="2.4" height="2.4" fill="#0000f6"/>
<rect x="1322.36" y="972.24" width="2.4" height="2.4" fill="#0000d6"/>
<rect x="1324.36" y="930.28" width="2.4" height="2.4" fill="#0000f1"/>
<rect x="1324.36" y="932.27" width="2.4" height="2.4" fill="#0008ff"/>
<rect x="1324.36" y="934.27" width="2.4" height="2.4" fill="#0034ff"/>
<rect x="1324.36" y="936.27" width="2.4" height="2.4" fill="#0068ff"/>
<rect x="1324.36" y="938.27" width="2.4" height="2.4" fill="#00a0ff"/>
<rect x="1324.36" y="940.27" width="2.4" height="2.4" fill="#00d8ff"/>
<rect x="1324.36" y="942.26" width="2.4" height="2.4" fill="#1fffd7"/>
<rect x="1324.36" y="944.26" width="2.4" height="2.4" fill="#46ffb1"/>
<rect x="1324.36" y="946.26" width="2.4" height="2.4" fill="#66ff90"/>
<rect x="1324.36" y="948.26" width="2.4" height="2.4" fill="#7aff7d"/>
<rect x="1324.36" y="950.26" width="2.4" height="2.4" fill="#87ff70"/>
<rect x="1324.36" y="952.26" width="2.4" height="2.4" fill="#87ff70"/>
<rect x="1324.36" y="954.25" width="2.4" height="2.4" fill="#7aff7d"/>
<rect x="1324.36" y="956.25" width="2.4" height="2.4" fill="#66ff90"/>
<rect x="1324.36" y="958.25" width="2.4" height="2.4" fill="#46ffb1"/>
<rect x="1324.36" y="960.25" width="2.4" height="2.4" fill="#1fffd7"/>
<rect x="1324.36" y="962.25" width="2.4" height="2.4" fill="#00d8ff"/>
<rect x="1324.36" y="964.25" width="2.4" height="2.4" fill="#00a0ff"/>
<rect x="1324.36" y="966.24" width="2.4" height="2.4" fill="#0068ff"/>
<rect x="1324.36" y="968.24" width="2.4" height="2.4" fill="#0034ff"/>
<rect x="1324.36" y="970.24" width="2.4" height="2.4" fill="#0008ff"/>
<rect x="1324.36" y="972.24" width="2.4" height="2.4" fill="#0000f1"/>
<rect x="1326.36" y="930.28" width="2.4" height="2.4" fill="#0000ff"/>
<rect x="1326.36" y="932.27" width="2.4" height="2.4" fill="#0028ff"/>
<rect x="1326.36" y="934.27" width="2.4" height="2.4" fill="#0060ff"/>
<rect x="1326.36" y="936.27" width="2.4" height="2.4" fill="#00a0ff"/>
<rect x="1326.36" y="938.27" width="2.4" height="2.4" fill="#00e0fb"/>
<rect x="1326.36" y="940.27" width="2.4" height="2.4" fill="#33ffc4"/>
<rect x="1326.36" y="942.26" width="2.4" height="2.4" fill="#66ff90"/>
<rect x="1326.36" y="944.26" width="2.4" height="2.4" fill="#94ff63"/>
<rect x="1326.36" y="946.26" width="2.4" height="2.4" fill="#b7ff40"/>
<rect x="1326.36" y="948.26" width="2.4" height="2.4" fill="#d1ff26"/>
<rect x="1326.36" y="950.26" width="2.4" height="2.4" fill="#deff19"/>
<rect x="1326.36" y="952.26" width="2.4" height="2.4" fill="#deff19"/>
<rect x="1326.36" y="954.25" width="2.4" height="2.4" fill="#d1ff26"/>
<rect x="1326.36" y="956.25" width="2.4" height="2.4" fill="#b7ff40"/>
<rect x="1326.36" y="958.25" width="2.4" height="2.4" fill="#94ff63"/>
<rect x="1326.36" y="960.25" width="2.4" height="2.4" fill="#66ff90"/>
<rect x="1326.36" y="962.25" width="2.4" height="2.4" fill="#33ffc4"/>
<rect x="1326.36" y="964.25" width="2.4" height="2.4" fill="#00e0fb"/>
<rect x="1326.36" y="966.24" width="2.4" height="2.4" fill="#00a0ff"/>
<rect x="1326.36" y="968.24" width="2.4" height="2.4" fill="#0060ff"/>
<rect x="1326.36" y="970.24" width="2.4" height="2.4" fill="#0028ff"/>
<rect x="1326.36" y="972.24" width="2.4" height="2.4" fill="#0000ff"/>
<rect x="1328.35" y="930.28" width="2.4" height="2.4" fill="#0014ff"/>
<rect x="1328.35" y="932.27" width="2.4" height="2.4" fill="#004cff"/>
<rect x="1328.35" y="934.27" width="2.4" height="2.4" fill="#008cff"/>
<rect x="1328.35" y="936.27" width="2.4" height="2.4" fill="#00d8ff"/>
<rect x="1328.35" y="938.27" width="2.4" height="2.4" fill="#33ffc4"/>
<rect x="1328.35" y="940.27" width="2.4" height="2.4" fill="#70ff87"/>
<rect x="1328.35" y="942.26" width="2.4" height="2.4" fill="#aaff4d"/>
<rect x="1328.35" y="944.26" width="2.4" height="2.4" fill="#deff19"/>
<rect x="1328.35" y="946.26" width="2.4" height="2.4" fill="#ffe200"/>
<rect x="1328.35" y="948.26" width="2.4" height="2.4" fill="#ffc100"/>
<rect x="1328.35" y="950.26" width="2.4" height="2.4" fill="#ffb200"/>
<rect x="1328.35" y="952.26" width="2.4" height="2.4" fill="#ffb200"/>
<rect x="1328.35" y="954.25" width="2.4" height="2.4" fill="#ffc100"/>
<rect x="1328.35" y="956.25" width="2.4" height="2.4" fill="#ffe200"/>
<rect x="1328.35" y="958.25" width="2.4" height="2.4" fill="#deff19"/>
<rect x="1328.35" y="960.25" width="2.4" height="2.4" fill="#aaff4d"/>
<rect x="1328.35" y="962.25" width="2.4" height="2.4" fill="#70ff87"/>
<rect x="1328.35" y="964.25" width="2.4" height="2.4" fill="#33ffc4"/>
<rect x="1328.35" y="966.24" width="2.4" height="2.4" fill="#00d8ff"/>
<rect x="1328.35" y="968.24" width="2.4" height="2.4" fill="#008cff"/>
<rect x="1328.35" y="970.24" width="2.4" height="2.4" fill="#004cff"/>
<rect x="1328.35" y="972.24" width="2.4" height="2.4" fill="#0014ff"/>
<rect x="1330.35" y="930.28" width="2.4" height="2.4" fill="#0030ff"/>
<rect x="1330.35" y="932.27" width="2.4" height="2.4" fill="#0070ff"/>
<rect x="1330.35" y="934.27" width="2.4" height="2.4" fill="#00b8ff"/>
<rect x="1330.35" y="936.27" width="2.4" height="2.4" fill="#1fffd7"/>
<rect x="1330.35" y="938.27" width="2.4" height="2.4" fill="#66ff90"/>
<rect x="1330.35" y="940.27" width="2.4" height="2.4" fill="#aaff4d"/>
<rect x="1330.35" y="942.26" width="2.4" height="2.4" fill="#ebff0c"/>
<rect x="1330.35" y="944.26" width="2.4" height="2.4" fill="#ffc100"/>
<rect x="1330.35" y="946.26" width="2.4" height="2.4" fill="#ff9100"/>
<rect x="1330.35" y="948.26" width="2.4" height="2.4" fill="#ff6c00"/>
<rect x="1330.35" y="950.26" width="2.4" height="2.4" fill="#ff5900"/>
<rect x="1330.35" y="952.26" width="2.4" height="2.4" fill="#ff5900"/>
<rect x="1330.35" y="954.25" width="2.4" height="2.4" fill="#ff6c00"/>
<rect x="1330.35" y="956.25" width="2.4" height="2.4" fill="#ff9100"/>
<rect x="1330.35" y="958.25" width="2.4" height="2.4" fill="#ffc100"/>
<rect x="1330.35" y="960.25" width="2.4" height="2.4" fill="#ebff0c"/>
<rect x="1330.35" y="962.25" width="2.4" height="2.4" fill="#aaff4d"/>
<rect x="1330.35" y="964.25" width="2.4" height="2.4" fill="#66ff90"/>
<rect x="1330.35" y="966.24" width="2.4" height="2.4" fill="#1fffd7"/>
<rect x="1330.35" y="968.24" width="2.4" height="2.4" fill="#00b8ff"/>
<rect x="1330.35" y="970.24" width="2.4" height="2.4" fill="#0070ff"/>
<rect x="1330.35" y="972.24" width="2.4" height="2.4" fill="#0030ff"/>
<rect x="1332.35" y="930.28" width="2.4" height="2.4" fill="#0048ff"/>
<rect x="1332.35" y="932.27" width="2.4" height="2.4" fill="#008cff"/>
<rect x="1332.35" y="934.27" width="2.4" height="2.4" fill="#00e0fb"/>
<rect x="1332.35" y="936.27" width="2.4" height="2.4" fill="#46ffb1"/>
<rect x="1332.35" y="938.27" width="2.4" height="2.4" fill="#94ff63"/>
<rect x="1332.35" y="940.27" width="2.4" height="2.4" fill="#deff19"/>
<rect x="1332.35" y="942.26" width="2.4" height="2.4" fill="#ffc100"/>
<rect x="1332.35" y="944.26" width="2.4" height="2.4" fill="#ff7e00"/>
<rect x="1332.35" y="946.26" width="2.4" height="2.4" fill="#ff4700"/>
<rect x="1332.35" y="948.26" width="2.4" height="2.4" fill="#ff2500"/>
<rect x="1332.35" y="950.26" width="2.4" height="2.4" fill="#ff1300"/>
<rect x="1332.35" y="952.26" width="2.4" height="2.4" fill="#ff1300"/>
<rect x="1332.35" y="954.25" width="2.4" height="2.4" fill="#ff2500"/>
<rect x="1332.35" y="956.25" width="2.4" height="2.4" fill="#ff4700"/>
<rect x="1332.35" y="958.25" width="2.4" height="2.4" fill="#ff7e00"/>
<rect x="1332.35" y="960.25" width="2.4" height="2.4" fill="#ffc100"/>
<rect x="1332.35" y="962.25" width="2.4" height="2.4" fill="#deff19"/>
<rect x="1332.35" y="964.25" width="2.4" height="2.4" fill="#94ff63"/>
<rect x="1332.35" y="966.24" width="2.4" height="2.4" fill="#46ffb1"/>
<rect x="1332.35" y="968.24" width="2.4" height="2.4" fill="#00e0fb"/>
<rect x="1332.35" y="970.24" width="2.4" height="2.4" fill="#008cff"/>
<rect x="1332.35" y="972.24" width="2.4" height="2.4" fill="#0048ff"/>
<rect x="1334.35" y="930.28" width="2.4" height="2.4" fill="#0058ff"/>
<rect x="1334.35" y="932.27" width="2.4" height="2.4" fill="#00a8ff"/>
<rect x="1334.35" y="934.27" width="2.4" height="2.4" fill="#16ffe1"/>
<rect x="1334.35" y="936.27" width="2.4" height="2.4" fill="#66ff90"/>
<rect x="1334.35" y="938.27" width="2.4" height="2.4" fill="#b7ff40"/>
<rect x="1334.35" y="940.27" width="2.4" height="2.4" fill="#ffe200"/>
<rect x="1334.35" y="942.26" width="2.4" height="2.4" fill="#ff9100"/>
<rect x="1334.35" y="944.26" width="2.4" height="2.4" fill="#ff4700"/>
<rect x="1334.35" y="946.26" width="2.4" height="2.4" fill="#ff1300"/>
<rect x="1334.35" y="948.26" width="2.4" height="2.4" fill="#d10000"/>
<rect x="1334.35" y="950.26" width="2.4" height="2.4" fill="#bb0000"/>
<rect x="1334.35" y="952.26" width="2.4" height="2.4" fill="#bb0000"/>
<rect x="1334.35" y="954.25" width="2.4" height="2.4" fill="#d10000"/>
<rect x="1334.35" y="956.25" width="2.4" height="2.4" fill="#ff1300"/>
<rect x="1334.35" y="958.25" width="2.4" height="2.4" fill="#ff4700"/>
<rect x="1334.35" y="960.25" width="2.4" height="2.4" fill="#ff9100"/>
<rect x="1334.35" y="962.25" width="2.4" height="2.4" fill="#ffe200"/>
<rect x="1334.35" y="964.25" width="2.4" height="2.4" fill="#b7ff40"/>
<rect x="1334.35" y="966.24" width="2.4" height="2.4" fill="#66ff90"/>
<rect x="1334.35" y="968.24" width="2.4" height="2.4" fill="#16ffe1"/>
<rect x="1334.35" y="970.24" width="2.4" height="2.4" fill="#00a8ff"/>
<rect x="1334.35" y="972.24" width="2.4" height="2.4" fill="#0058ff"/>
<rect x="1336.35" y="930.28" width="2.4" height="2.4" fill="#0068ff"/>
<rect x="1336.35" y="932.27" width="2.4" height="2.4" fill="#00b8ff"/>
<rect x="1336.35" y="934.27" width="2.4" height="2.4" fill="#29ffce"/>
<rect x="1336.35" y="936.27" width="2.4" height="2.4" fill="#7aff7d"/>
<rect x="1336.35" y="938.27" width="2.4" height="2.4" fill="#d1ff26"/>
<rect x="1336.35" y="940.27" width="2.4" height="2.4" fill="#ffc100"/>
<rect x="1336.35" y="942.26" width="2.4" height="2.4" fill="#ff6c00"/>
<rect x="1336.35" y="944.26" width="2.4" height="2.4" fill="#ff2500"/>
<rect x="1336.35" y="946.26" width="2.4" height="2.4" fill="#d10000"/>
<rect x="1336.35" y="948.26" width="2.4" height="2.4" fill="#a80000"/>
<rect x="1336.35" y="950.26" width="2.4" height="2.4" fill="#920000"/>
<rect x="1336.35" y="952.26" width="2.4" height="2.4" fill="#920000"/>
<rect x="1336.35" y="954.25" width="2.4" height="2.4" fill="#a80000"/>
<rect x="1336.35" y="956.25" width="2.4" height="2.4" fill="#d10000"/>
<rect x="1336.35" y="958.25" width="2.4" height="2.4" fill="#ff2500"/>
<rect x="1336.35" y="960.25" width="2.4" height="2.4" fill="#ff6c00"/>
<rect x="1336.35" y="962.25" width="2.4" height="2.4" fill="#ffc100"/>
<rect x="1336.35" y="964.25" width="2.4" height="2.4" fill="#d1ff26"/>
<rect x="1336.35" y="966.24" width="2.4" height="2.4" fill="#7aff7d"/>
<rect x="1336.35" y="968.24" width="2.4" height="2.4" fill="#29ffce"/>
<rect x="1336.35" y="970.24" width="2.4" height="2.4" fill="#00b8ff"/>
<rect x="1336.35" y="972.24" width="2.4" height="2.4" fill="#0068ff"/>
<rect x="1338.35" y="930.28" width="2.4" height="2.4" fill="#0070ff"/>
<rect x="1338.35" y="932.27" width="2.4" height="2.4" fill="#00c4ff"/>
<rect x="1338.35" y="934.27" width="2.4" height="2.4" fill="#33ffc4"/>
<rect x="1338.35" y="936.27" width="2.4" height="2.4" fill="#87ff70"/>
<rect x="1338.35" y="938.27" width="2.4" height="2.4" fill="#deff19"/>
<rect x="1338.35" y="940.27" width="2.4" height="2.4" fill="#ffb200"/>
<rect x="1338.35" y="942.26" width="2.4" height="2.4" fill="#ff5900"/>
<rect x="1338.35" y="944.26" width="2.4" height="2.4" fill="#ff1300"/>
<rect x="1338.35" y="946.26" width="2.4" height="2.4" fill="#bb0000"/>
<rect x="1338.35" y="948.26" width="2.4" height="2.4" fill="#920000"/>
<rect x="1338.35" y="950.26" width="2.4" height="2.4" fill="#800000"/>
<rect x="1338.35" y="952.26" width="2.4" height="2.4" fill="#800000"/>
<rect x="1338.35" y="954.25" width="2.4" height="2.4" fill="#920000"/>
<rect x="1338.35" y="956.25" width="2.4" height="2.4" fill="#bb0000"/>
<rect x="1338.35" y="958.25" width="2.4" height="2.4" fill="#ff1300"/>
<rect x="1338.35" y="960.25" width="2.4" height="2.4" fill="#ff5900"/>
<rect x="1338.35" y="962.25" width="2.4" height="2.4" fill="#ffb200"/>
<rect x="1338.35" y="964.25" width="2.4" height="2.4" fill="#deff19"/>
<rect x="1338.35" y="966.24" width="2.4" height="2.4" fill="#87ff70"/>
<rect x="1338.35" y="968.24" width="2.4" height="2.4" fill="#33ffc4"/>
<rect x="1338.35" y="970.24" width="2.4" height="2.4" fill="#00c4ff"/>
<rect x="1338.35" y="972.24" width="2.4" height="2.4" fill="#0070ff"/>
<rect x="1340.34" y="930.28" width="2.4" height="2.4" fill="#0070ff"/>
<rect x="1340.34" y="932.27" width="2.4" height="2.4" fill="#00c4ff"/>
<rect x="1340.34" y="934.27" width="2.4" height="2.4" fill="#33ffc4"/>
<rect x="1340.34" y="936.27" width="2.4" height="2.4" fill="#87ff70"/>
<rect x="1340.34" y="938.27" width="2.4" height="2.4" fill="#deff19"/>
<rect x="1340.34" y="940.27" width="2.4" height="2.4" fill="#ffb200"/>
<rect x="1340.34" y="942.26" width="2.4" height="2.4" fill="#ff5900"/>
<rect x="1340.34" y="944.26" width="2.4" height="2.4" fill="#ff1300"/>
<rect x="1340.34" y="946.26" width="2.4" height="2.4" fill="#bb0000"/>
<rect x="1340.34" y="948.26" width="2.4" height="2.4" fill="#920000"/>
<rect x="1340.34" y="950.26" width="2.4" height="2.4" fill="#800000"/>
<rect x="1340.34" y="952.26" width="2.4" height="2.4" fill="#800000"/>
<rect x="1340.34" y="954.25" width="2.4" height="2.4" fill="#920000"/>
<rect x="1340.34" y="956.25" width="2.4" height="2.4" fill="#bb0000"/>
<rect x="1340.34" y="958.25" width="2.4" height="2.4" fill="#ff1300"/>
<rect x="1340.34" y="960.25" width="2.4" height="2.4" fill="#ff5900"/>
<rect x="1340.34" y="962.25" width="2.4" height="2.4" fill="#ffb200"/>
<rect x="1340.34" y="964.25" width="2.4" height="2.4" fill="#deff19"/>
<rect x="1340.34" y="966.24" width="2.4" height="2.4" fill="#87ff70"/>
<rect x="1340.34" y="968.24" width="2.4" height="2.4" fill="#33ffc4"/>
<rect x="1340.34" y="970.24" width="2.4" height="2.4" fill="#00c4ff"/>
<rect x="1340.34" y="972.24" width="2.4" height="2.4" fill="#0070ff"/>
<rect x="1342.34" y="930.28" width="2.4" height="2.4" fill="#0068ff"/>
<rect x="1342.34" y="932.27" width="2.4" height="2.4" fill="#00b8ff"/>
<rect x="1342.34" y="934.27" width="2.4" height="2.4" fill="#29ffce"/>
<rect x="1342.34" y="936.27" width="2.4" height="2.4" fill="#7aff7d"/>
<rect x="1342.34" y="938.27" width="2.4" height="2.4" fill="#d1ff26"/>
<rect x="1342.34" y="940.27" width="2.4" height="2.4" fill="#ffc100"/>
<rect x="1342.34" y="942.26" width="2.4" height="2.4" fill="#ff6c00"/>
<rect x="1342.34" y="944.26" width="2.4" height="2.4" fill="#ff2500"/>
<rect x="1342.34" y="946.26" width="2.4" height="2.4" fill="#d10000"/>
<rect x="1342.34" y="948.26" width="2.4" height="2.4" fill="#a80000"/>
<rect x="1342.34" y="950.26" width="2.4" height="2.4" fill="#920000"/>
<rect x="1342.34" y="952.26" width="2.4" height="2.4" fill="#920000"/>
<rect x="1342.34" y="954.25" width="2.4" height="2.4" fill="#a80000"/>
<rect x="1342.34" y="956.25" width="2.4" height="2.4" fill="#d10000"/>
<rect x="1342.34" y="958.25" width="2.4" height="2.4" fill="#ff2500"/>
<rect x="1342.34" y="960.25" width="2.4" height="2.4" fill="#ff6c00"/>
<rect x="1342.34" y="962.25" width="2.4" height="2.4" fill="#ffc100"/>
<rect x="1342.34" y="964.25" width="2.4" height="2.4" fill="#d1ff26"/>
<rect x="1342.34" y="966.24" width="2.4" height="2.4" fill="#7aff7d"/>
<rect x="1342.34" y="968.24" width="2.4" height="2.4" fill="#29ffce"/>
<rect x="1342.34" y="970.24" width="2.4" height="2.4" fill="#00b8ff"/>
<rect x="1342.34" y="972.24" width="2.4" height="2.4" fill="#0068ff"/>
<rect x="1344.34" y="930.28" width="2.4" height="2.4" fill="#0058ff"/>
<rect x="1344.34" y="932.27" width="2.4" height="2.4" fill="#00a8ff"/>
<rect x="1344.34" y="934.27" width="2.4" height="2.4" fill="#16ffe1"/>
<rect x="1344.34" y="936.27" width="2.4" height="2.4" fill="#66ff90"/>
<rect x="1344.34" y="938.27" width="2.4" height="2.4" fill="#b7ff40"/>
<rect x="1344.34" y="940.27" width="2.4" height="2.4" fill="#ffe200"/>
<rect x="1344.34" y="942.26" width="2.4" height="2.4" fill="#ff9100"/>
<rect x="1344.34" y="944.26" width="2.4" height="2.4" fill="#ff4700"/>
<rect x="1344.34" y="946.26" width="2.4" height="2.4" fill="#ff1300"/>
<rect x="1344.34" y="948.26" width="2.4" height="2.4" fill="#d10000"/>
<rect x="1344.34" y="950.26" width="2.4" height="2.4" fill="#bb0000"/>
<rect x="1344.34" y="952.26" width="2.4" height="2.4" fill="#bb0000"/>
<rect x="1344.34" y="954.25" width="2.4" height="2.4" fill="#d10000"/>
<rect x="1344.34" y="956.25" width="2.4" height="2.4" fill="#ff1300"/>
<rect x="1344.34" y="958.25" width="2.4" height="2.4" fill="#ff4700"/>
<rect x="1344.34" y="960.25" width="2.4" height="2.4" fill="#ff9100"/>
<rect x="1344.34" y="962.25" width="2.4" height="2.4" fill="#ffe200"/>
<rect x="1344.34" y="964.25" width="2.4" height="2.4" fill="#b7ff40"/>
<rect x="1344.34" y="966.24" width="2.4" height="2.4" fill="#66ff90"/>
<rect x="1344.34" y="968.24" width="2.4" height="2.4" fill="#16ffe1"/>
<rect x="1344.34" y="970.24" width="2.4" height="2.4" fill="#00a8ff"/>
<rect x="1344.34" y="972.24" width="2.4" height="2.4" fill="#0058ff"/>
<rect x="1346.34" y="930.28" width="2.4" height="2.4" fill="#0048ff"/>
<rect x="1346.34" y="932.27" width="2.4" height="2.4" fill="#008cff"/>
<rect x="1346.34" y="934.27" width="2.4" height="2.4" fill="#00e0fb"/>
<rect x="1346.34" y="936.27" width="2.4" height="2.4" fill="#46ffb1"/>
<rect x="1346.34" y="938.27" width="2.4" height="2.4" fill="#94ff63"/>
<rect x="1346.34" y="940.27" width="2.4" height="2.4" fill="#deff19"/>
<rect x="1346.34" y="942.26" width="2.4" height="2.4" fill="#ffc100"/>
<rect x="1346.34" y="944.26" width="2.4" height="2.4" fill="#ff7e00"/>
<rect x="1346.34" y="946.26" width="2.4" height="2.4" fill="#ff4700"/>
<rect x="1346.34" y="948.26" width="2.4" height="2.4" fill="#ff2500"/>
<rect x="1346.34" y="950.26" width="2.4" height="2.4" fill="#ff1300"/>
<rect x="1346.34" y="952.26" width="2.4" height="2.4" fill="#ff1300"/>
<rect x="1346.34" y="954.25" width="2.4" height="2.4" fill="#ff2500"/>
<rect x="1346.34" y="956.25" width="2.4" height="2.4" fill="#ff4700"/>
<rect x="1346.34" y="958.25" width="2.4" height="2.4" fill="#ff7e00"/>
<rect x="1346.34" y="960.25" width="2.4" height="2.4" fill="#ffc100"/>
<rect x="1346.34" y="962.25" width="2.4" height="2.4" fill="#deff19"/>
<rect x="1346.34" y="964.25" width="2.4" height="2.4" fill="#94ff63"/>
<rect x="1346.34" y="966.24" width="2.4" height="2.4" fill="#46ffb1"/>
<rect x="1346.34" y="968.24" width="2.4" height="2.4" fill="#00e0fb"/>
<rect x="1346.34" y="970.24" width="2.4" height="2.4" fill="#008cff"/>
<rect x="1346.34" y="972.24" width="2.4" height="2.4" fill="#0048ff"/>
<rect x="1348.34" y="930.28" width="2.4" height="2.4" fill="#0030ff"/>
<rect x="1348.34" y="932.27" width="2.4" height="2.4" fill="#0070ff"/>
<rect x="1348.34" y="934.27" width="2.4" height="2.4" fill="#00b8ff"/>
<rect x="1348.34" y="936.27" width="2.4" height="2.4" fill="#1fffd7"/>
<rect x="1348.34" y="938.27" width="2.4" height="2.4" fill="#66ff90"/>
<rect x="1348.34" y="940.27" width="2.4" height="2.4" fill="#aaff4d"/>
<rect x="1348.34" y="942.26" width="2.4" height="2.4" fill="#ebff0c"/>
<rect x="1348.34" y="944.26" width="2.4" height="2.4" fill="#ffc100"/>
<rect x="1348.34" y="946.26" width="2.4" height="2.4" fill="#ff9100"/>
<rect x="1348.34" y="948.26" width="2.4" height="2.4" fill="#ff6c00"/>
<rect x="1348.34" y="950.26" width="2.4" height="2.4" fill="#ff5900"/>
<rect x="1348.34" y="952.26" width="2.4" height="2.4" fill="#ff5900"/>
<rect x="1348.34" y="954.25" width="2.4" height="2.4" fill="#ff6c00"/>
<rect x="1348.34" y="956.25" width="2.4" height="2.4" fill="#ff9100"/>
<rect x="1348.34" y="958.25" width="2.4" height="2.4" fill="#ffc100"/>
<rect x="1348.34" y="960.25" width="2.4" height="2.4" fill="#ebff0c"/>
<rect x="1348.34" y="962.25" width="2.4" height="2.4" fill="#aaff4d"/>
<rect x="1348.34" y="964.25" width="2.4" height="2.4" fill="#66ff90"/>
<rect x="1348.34" y="966.24" width="2.4" height="2.4" fill="#1fffd7"/>
<rect x="1348.34" y="968.24" width="2.4" height="2.4" fill="#00b8ff"/>
<rect x="1348.34" y="970.24" width="2.4" height="2.4" fill="#0070ff"/>
<rect x="1348.34" y="972.24" width="2.4" height="2.4" fill="#0030ff"/>
<rect x="1350.34" y="930.28" width="2.4" height="2.4" fill="#0014ff"/>
<rect x="1350.34" y="932.27" width="2.4" height="2.4" fill="#004cff"/>
<rect x="1350.34" y="934.27" width="2.4" height="2.4" fill="#008cff"/>
<rect x="1350.34" y="936.27" width="2.4" height="2.4" fill="#00d8ff"/>
<rect x="1350.34" y="938.27" width="2.4" height="2.4" fill="#33ffc4"/>
<rect x="1350.34" y="940.27" width="2.4" height="2.4" fill="#70ff87"/>
<rect x="1350.34" y="942.26" width="2.4" height="2.4" fill="#aaff4d"/>
<rect x="1350.34" y="944.26" width="2.4" height="2.4" fill="#deff19"/>
<rect x="1350.34" y="946.26" width="2.4" height="2.4" fill="#ffe200"/>
<rect x="1350.34" y="948.26" width="2.4" height="2.4" fill="#ffc100"/>
<rect x="1350.34" y="950.26" width="2.4" height="2.4" fill="#ffb200"/>
<rect x="1350.34" y="952.26" width="2.4" height="2.4" fill="#ffb200"/>
<rect x="1350.34" y="954.25" width="2.4" height="2.4" fill="#ffc100"/>
<rect x="1350.34" y="956.25" width="2.4" height="2.4" fill="#ffe200"/>
<rect x="1350.34" y="958.25" width="2.4" height="2.4" fill="#deff19"/>
<rect x="1350.34" y="960.25" width="2.4" height="2.4" fill="#aaff4d"/>
<rect x="1350.34" y="962.25" width="2.4" height="2.4" fill="#70ff87"/>
<rect x="1350.34" y="964.25" width="2.4" height="2.4" fill="#33ffc4"/>
<rect x="1350.34" y="966.24" width="2.4" height="2.4" fill="#00d8ff"/>
<rect x="1350.34" y="968.24" width="2.4" height="2.4" fill="#008cff"/>
<rect x="1350.34" y="970.24" width="2.4" height="2.4" fill="#004cff"/>
<rect x="1350.34" y="972.24" width="2.4" height="2.4" fill="#0014ff"/>
<rect x="1352.33" y="930.28" width="2.4" height="2.4" fill="#0000ff"/>
<rect x="1352.33" y="932.27" width="2.4" height="2.4" fill="#0028ff"/>
<rect x="1352.33" y="934.27" width="2.4" height="2.4" fill="#0060ff"/>
<rect x="1352.33" y="936.27" width="2.4" height="2.4" fill="#00a0ff"/>
<rect x="1352.33" y="938.27" width="2.4" height="2.4" fill="#00e0fb"/>
<rect x="1352.33" y="940.27" width="2.4" height="2.4" fill="#33ffc4"/>
<rect x="1352.33" y="942.26" width="2.4" height="2.4" fill="#66ff90"/>
<rect x="1352.33" y="944.26" width="2.4" height="2.4" fill="#94ff63"/>
<rect x="1352.33" y="946.26" width="2.4" height="2.4" fill="#b7ff40"/>
<rect x="1352.33" y="948.26" width="2.4" height="2.4" fill="#d1ff26"/>
<rect x="1352.33" y="950.26" width="2.4" height="2.4" fill="#deff19"/>
<rect x="1352.33" y="952.26" width="2.4" height="2.4" fill="#deff19"/>
<rect x="1352.33" y="954.25" width="2.4" height="2.4" fill="#d1ff26"/>
<rect x="1352.33" y="956.25" width="2.4" height="2.4" fill="#b7ff40"/>
<rect x="1352.33" y="958.25" width="2.4" height="2.4" fill="#94ff63"/>
<rect x="1352.33" y="960.25" width="2.4" height="2.4" fill="#66ff90"/>
<rect x="1352.33" y="962.25" width="2.4" height="2.4" fill="#33ffc4"/>
<rect x="1352.33" y="964.25" width="2.4" height="2.4" fill="#00e0fb"/>
<rect x="1352.33" y="966.24" width="2.4" height="2.4" fill="#00a0ff"/>
<rect x="1352.33" y="968.24" width="2.4" height="2.4" fill="#0060ff"/>
<rect x="1352.33" y="970.24" width="2.4" height="2.4" fill="#0028ff"/>
<rect x="1352.33" y="972.24" width="2.4" height="2.4" fill="#0000ff"/>
<rect x="1354.33" y="930.28" width="2.4" height="2.4" fill="#0000f1"/>
<rect x="1354.33" y="932.27" width="2.4" height="2.4" fill="#0008ff"/>
<rect x="1354.33" y="934.27" width="2.4" height="2.4" fill="#0034ff"/>
<rect x="1354.33" y="936.27" width="2.4" height="2.4" fill="#0068ff"/>
<rect x="1354.33" y="938.27" width="2.4" height="2.4" fill="#00a0ff"/>
<rect x="1354.33" y="940.27" width="2.4" height="2.4" fill="#00d8ff"/>
<rect x="1354.33" y="942.26" width="2.4" height="2.4" fill="#1fffd7"/>
<rect x="1354.33" y="944.26" width="2.4" height="2.4" fill="#46ffb1"/>
<rect x="1354.33" y="946.26" width="2.4" height="2.4" fill="#66ff90"/>
<rect x="1354.33" y="948.26" width="2.4" height="2.4" fill="#7aff7d"/>
<rect x="1354.33" y="950.26" width="2.4" height="2.4" fill="#87ff70"/>
<rect x="1354.33" y="952.26" width="2.4" height="2.4" fill="#87ff70"/>
<rect x="1354.33" y="954.25" width="2.4" height="2.4" fill="#7aff7d"/>
<rect x="1354.33" y="956.25" width="2.4" height="2.4" fill="#66ff90"/>
<rect x="1354.33" y="958.25" width="2.4" height="2.4" fill="#46ffb1"/>
<rect x="1354.33" y="960.25" width="2.4" height="2.4" fill="#1fffd7"/>
<rect x="1354.33" y="962.25" width="2.4" height="2.4" fill="#00d8ff"/>
<rect x="1354.33" y="964.25" width="2.4" height="2.4" fill="#00a0ff"/>
<rect x="1354.33" y="966.24" width="2.4" height="2.4" fill="#0068ff"/>
<rect x="1354.33" y="968.24" width="2.4" height="2.4" fill="#0034ff"/>
<rect x="1354.33" y="970.24" width="2.4" height="2.4" fill="#0008ff"/>
<rect x="1354.33" y="972.24" width="2.4" height="2.4" fill="#0000f1"/>
<rect x="1356.33" y="930.28" width="2.4" height="2.4" fill="#0000d6"/>
<rect x="1356.33" y="932.27" width="2.4" height="2.4" fill="#0000f6"/>
<rect x="1356.33" y="934.27" width="2.4" height="2.4" fill="#000cff"/>
<rect x="1356.33" y="936.27" width="2.4" height="2.4" fill="#0034ff"/>
<rect x="1356.33" y="938.27" width="2.4" height="2.4" fill="#0060ff"/>
<rect x="1356.33" y="940.27" width="2.4" height="2.4" fill="#008cff"/>
<rect x="1356.33" y="942.26" width="2.4" height="2.4" fill="#00b8ff"/>
<rect x="1356.33" y="944.26" width="2.4" height="2.4" fill="#00e0fb"/>
<rect x="1356.33" y="946.26" width="2.4" height="2.4" fill="#16ffe1"/>
<rect x="1356.33" y="948.26" width="2.4" height="2.4" fill="#29ffce"/>
<rect x="1356.33" y="950.26" width="2.4" height="2.4" fill="#33ffc4"/>
<rect x="1356.33" y="952.26" width="2.4" height="2.4" fill="#33ffc4"/>
<rect x="1356.33" y="954.25" width="2.4" height="2.4" fill="#29ffce"/>
<rect x="1356.33" y="956.25" width="2.4" height="2.4" fill="#16ffe1"/>
<rect x="1356.33" y="958.25" width="2.4" height="2.4" fill="#00e0fb"/>
<rect x="1356.33" y="960.25" width="2.4" height="2.4" fill="#00b8ff"/>
<rect x="1356.33" y="962.25" width="2.4" height="2.4" fill="#008cff"/>
<rect x="1356.33" y="964.25" width="2.4" height="2.4" fill="#0060ff"/>
<rect x="1356.33" y="966.24" width="2.4" height="2.4" fill="#0034ff"/>
<rect x="1356.33" y="968.24" width="2.4" height="2.4" fill="#000cff"/>
<rect x="1356.33" y="970.24" width="2.4" height="2.4" fill="#0000f6"/>
<rect x="1356.33" y="972.24" width="2.4" height="2.4" fill="#0000d6"/>
<rect x="1358.33" y="930.28" width="2.4" height="2.4" fill="#0000bf"/>
<rect x="1358.33" y="932.27" width="2.4" height="2.4" fill="#0000d6"/>
<rect x="1358.33" y="934.27" width="2.4" height="2.4" fill="#0000f6"/>
<rect x="1358.33" y="936.27" width="2.4" height="2.4" fill="#0008ff"/>
<rect x="1358.33" y="938.27" width="2.4" height="2.4" fill="#0028ff"/>
<rect x="1358.33" y="940.27" width="2.4" height="2.4" fill="#004cff"/>
<rect x="1358.33" y="942.26" width="2.4" height="2.4" fill="#0070ff"/>
<rect x="1358.33" y="944.26" width="2.4" height="2.4" fill="#008cff"/>
<rect x="1358.33" y="946.26" width="2.4" height="2.4" fill="#00a8ff"/>
<rect x="1358.33" y="948.26" width="2.4" height="2.4" fill="#00b8ff"/>
<rect x="1358.33" y="950.26" width="2.4" height="2.4" fill="#00c4ff"/>
<rect x="1358.33" y="952.26" width="2.4" height="2.4" fill="#00c4ff"/>
<rect x="1358.33" y="954.25" width="2.4" height="2.4" fill="#00b8ff"/>
<rect x="1358.33" y="956.25" width="2.4" height="2.4" fill="#00a8ff"/>
<rect x="1358.33" y="958.25" width="2.4" height="2.4" fill="#008cff"/>
<rect x="1358.33" y="960.25" width="2.4" height="2.4" fill="#0070ff"/>
<rect x="1358.33" y="962.25" width="2.4" height="2.4" fill="#004cff"/>
<rect x="1358.33" y="964.25" width="2.4" height="2.4" fill="#0028ff"/>
<rect x="1358.33" y="966.24" width="2.4" height="2.4" fill="#0008ff"/>
<rect x="1358.33" y="968.24" width="2.4" height="2.4" fill="#0000f6"/>
<rect x="1358.33" y="970.24" width="2.4" height="2.4" fill="#0000d6"/>
<rect x="1358.33" y="972.24" width="2.4" height="2.4" fill="#0000bf"/>
<rect x="1360.33" y="930.28" width="2.4" height="2.4" fill="#0000ad"/>
<rect x="1360.33" y="932.27" width="2.4" height="2.4" fill="#0000bf"/>
<rect x="1360.33" y="934.27" width="2.4" height="2.4" fill="#0000d6"/>
<rect x="1360.33" y="936.27" width="2.4" height="2.4" fill="#0000f1"/>
<rect x="1360.33" y="938.27" width="2.4" height="2.4" fill="#0000ff"/>
<rect x="1360.33" y="940.27" width="2.4" height="2.4" fill="#0014ff"/>
<rect x="1360.33" y="942.26" width="2.4" height="2.4" fill="#0030ff"/>
<rect x="1360.33" y="944.26" width="2.4" height="2.4" fill="#0048ff"/>
<rect x="1360.33" y="946.26" width="2.4" height="2.4" fill="#0058ff"/>
<rect x="1360.33" y="948.26" width="2.4" height="2.4" fill="#0068ff"/>
<rect x="1360.33" y="950.26" width="2.4" height="2.4" fill="#0070ff"/>
<rect x="1360.33" y="952.26" width="2.4" height="2.4" fill="#0070ff"/>
<rect x="1360.33" y="954.25" width="2.4" height="2.4" fill="#0068ff"/>
<rect x="1360.33" y="956.25" width="2.4" height="2.4" fill="#0058ff"/>
<rect x="1360.33" y="958.25" width="2.4" height="2.4" fill="#0048ff"/>
<rect x="1360.33" y="960.25" width="2.4" height="2.4" fill="#0030ff"/>
<rect x="1360.33" y="962.25" width="2.4" height="2.4" fill="#0014ff"/>
<rect x="1360.33" y="964.25" width="2.4" height="2.4" fill="#0000ff"/>
<rect x="1360.33" y="966.24" width="2.4" height="2.4" fill="#0000f1"/>
<rect x="1360.33" y="968.24" width="2.4" height="2.4" fill="#0000d6"/>
<rect x="1360.33" y="970.24" width="2.4" height="2.4" fill="#0000bf"/>
<rect x="1360.33" y="972.24" width="2.4" height="2.4" fill="#0000ad"/>
</g></g>
<g stroke="#000" stroke-opacity="0.145" stroke-width="2.2">
<line x1="1054.59" y1="773.6" x2="1054.59" y2="1266"/>
<line x1="1028.5" y1="1238.01" x2="1521.6" y2="1238.01"/>
<line x1="1098.55" y1="773.6" x2="1098.55" y2="1266"/>
<line x1="1028.5" y1="1194.05" x2="1521.6" y2="1194.05"/>
<line x1="1142.51" y1="773.6" x2="1142.51" y2="1266"/>
<line x1="1028.5" y1="1150.09" x2="1521.6" y2="1150.09"/>
<line x1="1186.48" y1="773.6" x2="1186.48" y2="1266"/>
<line x1="1028.5" y1="1106.12" x2="1521.6" y2="1106.12"/>
<line x1="1230.44" y1="773.6" x2="1230.44" y2="1266"/>
<line x1="1028.5" y1="1062.16" x2="1521.6" y2="1062.16"/>
<line x1="1274.4" y1="773.6" x2="1274.4" y2="1266"/>
<line x1="1028.5" y1="1018.2" x2="1521.6" y2="1018.2"/>
<line x1="1318.36" y1="773.6" x2="1318.36" y2="1266"/>
<line x1="1028.5" y1="974.24" x2="1521.6" y2="974.24"/>
<line x1="1362.33" y1="773.6" x2="1362.33" y2="1266"/>
<line x1="1028.5" y1="930.28" x2="1521.6" y2="930.28"/>
<line x1="1406.29" y1="773.6" x2="1406.29" y2="1266"/>
<line x1="1028.5" y1="886.31" x2="1521.6" y2="886.31"/>
<line x1="1450.25" y1="773.6" x2="1450.25" y2="1266"/>
<line x1="1028.5" y1="842.35" x2="1521.6" y2="842.35"/>
<line x1="1494.21" y1="773.6" x2="1494.21" y2="1266"/>
<line x1="1028.5" y1="798.39" x2="1521.6" y2="798.39"/>
</g>
<rect x="1028.5" y="773.6" width="493.1" height="492.4" fill="none" stroke="#000" stroke-width="1.45"/>
<line x1="1098.85" y1="1266" x2="1098.85" y2="1273" stroke="#000" stroke-width="1.45"/>
<text x="1098.85" y="1304.8" text-anchor="middle" font-size="32">−0.5</text>
<line x1="1274.7" y1="1266" x2="1274.7" y2="1273" stroke="#000" stroke-width="1.45"/>
<text x="1274.7" y="1304.8" text-anchor="middle" font-size="32">0.0</text>
<line x1="1450.55" y1="1266" x2="1450.55" y2="1273" stroke="#000" stroke-width="1.45"/>
<text x="1450.55" y="1304.8" text-anchor="middle" font-size="32">0.5</text>
<line x1="1021.5" y1="1230.22" x2="1028.5" y2="1230.22" stroke="#000" stroke-width="1.45"/>
<text x="1014.5" y="1242.32" text-anchor="end" font-size="32">−0.6</text>
<line x1="1021.5" y1="1159.88" x2="1028.5" y2="1159.88" stroke="#000" stroke-width="1.45"/>
<text x="1014.5" y="1171.98" text-anchor="end" font-size="32">−0.4</text>
<line x1="1021.5" y1="1089.54" x2="1028.5" y2="1089.54" stroke="#000" stroke-width="1.45"/>
<text x="1014.5" y="1101.64" text-anchor="end" font-size="32">−0.2</text>
<line x1="1021.5" y1="1019.2" x2="1028.5" y2="1019.2" stroke="#000" stroke-width="1.45"/>
<text x="1014.5" y="1031.3" text-anchor="end" font-size="32">0.0</text>
<line x1="1021.5" y1="948.86" x2="1028.5" y2="948.86" stroke="#000" stroke-width="1.45"/>
<text x="1014.5" y="960.96" text-anchor="end" font-size="32">0.2</text>
<line x1="1021.5" y1="878.52" x2="1028.5" y2="878.52" stroke="#000" stroke-width="1.45"/>
<text x="1014.5" y="890.62" text-anchor="end" font-size="32">0.4</text>
<line x1="1021.5" y1="808.18" x2="1028.5" y2="808.18" stroke="#000" stroke-width="1.45"/>
<text x="1014.5" y="820.28" text-anchor="end" font-size="32">0.6</text>
<rect x="1555.5" y="773.6" width="24.2" height="492.4" fill="url(#cbd)" stroke="#000" stroke-width="1.45"/>
<line x1="1579.7" y1="773.6" x2="1586.7" y2="773.6" stroke="#000" stroke-width="1.45"/>
<text x="1592" y="785.7" text-anchor="start" font-size="32">1.0</text>
<line x1="1579.7" y1="872.08" x2="1586.7" y2="872.08" stroke="#000" stroke-width="1.45"/>
<text x="1592" y="884.18" text-anchor="start" font-size="32">0.8</text>
<line x1="1579.7" y1="970.56" x2="1586.7" y2="970.56" stroke="#000" stroke-width="1.45"/>
<text x="1592" y="982.66" text-anchor="start" font-size="32">0.6</text>
<line x1="1579.7" y1="1069.04" x2="1586.7" y2="1069.04" stroke="#000" stroke-width="1.45"/>
<text x="1592" y="1081.14" text-anchor="start" font-size="32">0.4</text>
<line x1="1579.7" y1="1167.52" x2="1586.7" y2="1167.52" stroke="#000" stroke-width="1.45"/>
<text x="1592" y="1179.62" text-anchor="start" font-size="32">0.2</text>
<line x1="1579.7" y1="1266" x2="1586.7" y2="1266" stroke="#000" stroke-width="1.45"/>
<text x="1592" y="1278.1" text-anchor="start" font-size="32">0.0</text>
<text x="1149.3" y="761.6" font-size="32" font-style="italic">λ</text>
<text x="1173.2" y="761.6" font-size="32">=</text>
<text x="1216.7" y="761.6" font-size="32">+1.00E+00</text>
<text x="212.2" y="656" font-family='"Liberation Serif", serif' font-size="37.5" textLength="413.7" lengthAdjust="spacingAndGlyphs"><tspan font-weight="bold">(a)</tspan> Eigenvalue spectrum</text>
<text x="1182.5" y="656.4" font-family='"Liberation Serif", serif' font-size="37.5" textLength="352.8" lengthAdjust="spacingAndGlyphs"><tspan font-weight="bold">(b)</tspan> Very small mode</text>
<text x="376.2" y="1361.8" font-family='"Liberation Serif", serif' font-size="37.5" textLength="296.4" lengthAdjust="spacingAndGlyphs"><tspan font-weight="bold">(c)</tspan> Smooth mode</text>
<text x="1073.9" y="1362.2" font-family='"Liberation Serif", serif' font-size="37.5" textLength="566.7" lengthAdjust="spacingAndGlyphs"><tspan font-weight="bold">(d)</tspan> Element of largest eigenspace</text></svg></body></html>
